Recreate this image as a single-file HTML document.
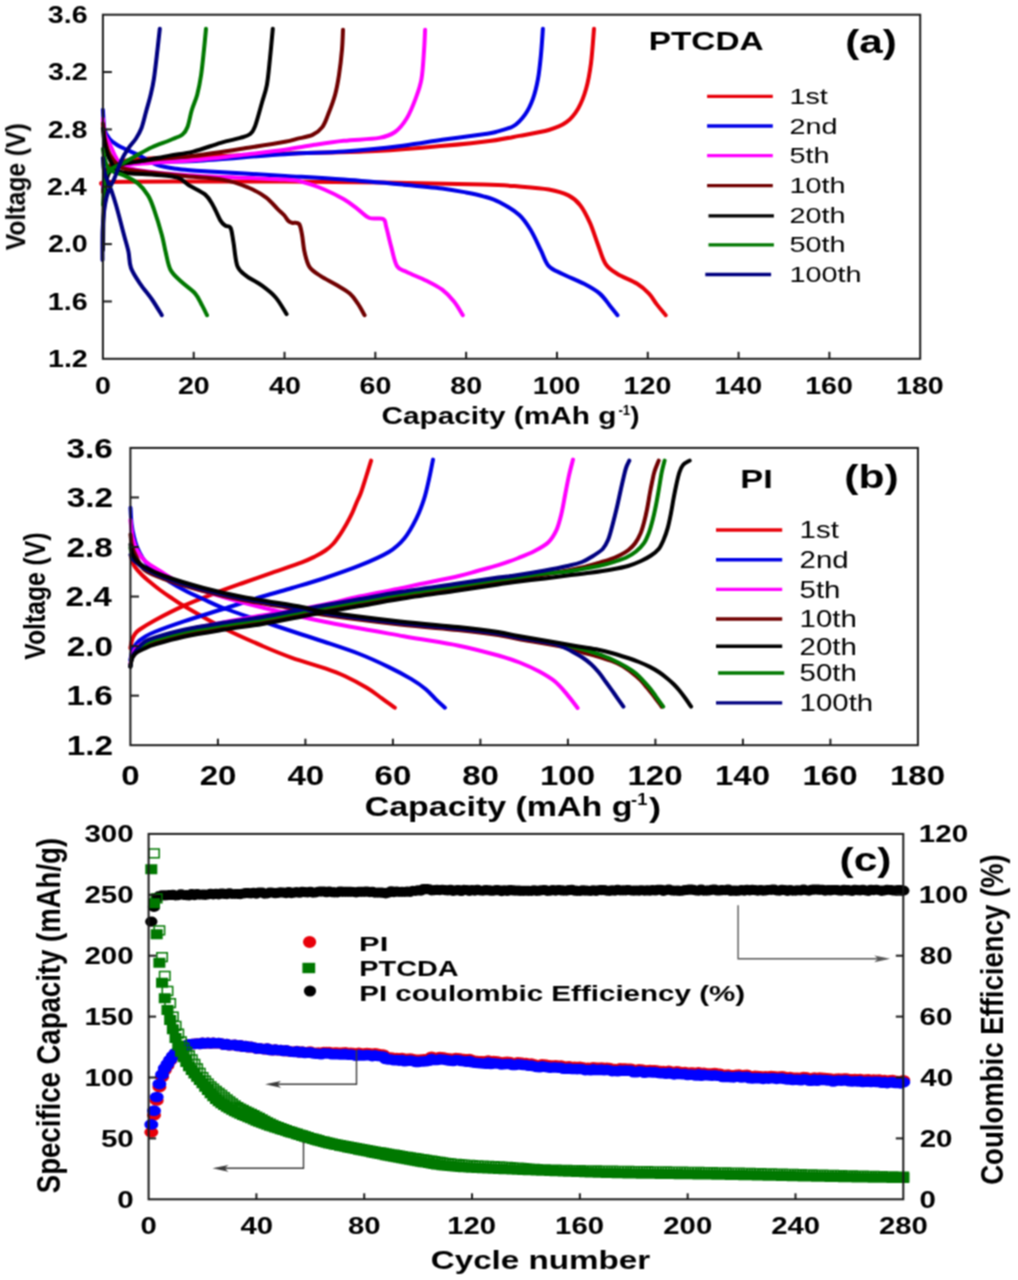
<!DOCTYPE html>
<html><head><meta charset="utf-8"><title>figure</title>
<style>html,body{margin:0;padding:0;background:#fff;}svg{display:block;}text{font-family:"Liberation Sans",sans-serif;}</style>
</head><body><div id="w">
<svg width="1018" height="1280" viewBox="0 0 1018 1280">
<defs><filter id="bl" x="0" y="0" width="1" height="1" color-interpolation-filters="sRGB"><feConvolveMatrix order="3" kernelMatrix="1 2 1 2 4 2 1 2 1" edgeMode="duplicate" preserveAlpha="true"/></filter></defs>
<rect width="1018" height="1280" fill="#fff"/>
<g filter="url(#bl)"><rect width="1018" height="1280" fill="#fff"/>
<path d="M103,185 C104.17,184.5 94.5,182.58 110,182 C125.5,181.42 166.83,181.57 196,181.5 C225.17,181.43 253.8,181.42 285,181.6 C316.2,181.78 350.13,182.1 383.2,182.6 C416.27,183.1 460.72,183.95 483.4,184.6 C506.08,185.25 508.4,185.68 519.3,186.5 C530.2,187.32 540.62,188.02 548.8,189.5 C556.98,190.98 563.17,192.78 568.4,195.4 C573.63,198.02 576.6,200.62 580.2,205.2 C583.8,209.78 587.05,216.35 590,222.9 C592.95,229.45 595.28,237.63 597.9,244.5 C600.52,251.37 602.43,259.18 605.7,264.1 C608.97,269.02 612.25,270.72 617.5,274 C622.75,277.28 631.95,280.53 637.2,283.8 C642.45,287.07 645.73,290.17 649,293.6 C652.27,297.03 654.02,300.8 656.8,304.4 C659.58,308 664.22,313.4 665.7,315.2" fill="none" stroke="#e8000a" stroke-width="4.0" stroke-linecap="round" stroke-linejoin="round"/>
<path d="M103,186 C103.5,183.67 104.5,175.67 106,172 C107.5,168.33 108,166 112,164 C116,162 122,161 130,160 C138,159 145,158.67 160,158 C175,157.33 199.17,156.73 220,156 C240.83,155.27 261.07,154.33 285,153.6 C308.93,152.87 340.68,152.58 363.6,151.6 C386.52,150.62 402.53,149.33 422.5,147.7 C442.47,146.07 467.27,143.77 483.4,141.8 C499.53,139.83 508.4,137.87 519.3,135.9 C530.2,133.93 540.95,132.28 548.8,130 C556.65,127.72 561.5,125.8 566.4,122.2 C571.3,118.6 574.92,113.97 578.2,108.4 C581.48,102.83 583.97,96.33 586.1,88.8 C588.23,81.27 589.68,73.2 591,63.2 C592.32,53.2 593.5,34.53 594,28.8" fill="none" stroke="#e8000a" stroke-width="4.0" stroke-linecap="round" stroke-linejoin="round"/>
<path d="M102.9,109.8 C103.17,113.08 103.35,124.58 104.5,129.5 C105.65,134.42 107.62,136.68 109.8,139.3 C111.98,141.92 114.65,143.4 117.6,145.2 C120.55,147 123.4,148.13 127.5,150.1 C131.6,152.07 137.3,154.55 142.2,157 C147.1,159.45 151.17,162.83 156.9,164.8 C162.63,166.77 170.05,167.82 176.6,168.8 C183.15,169.78 178.13,169.52 196.2,170.7 C214.27,171.88 260.38,174.42 285,175.9 C309.62,177.38 324.25,178.15 343.9,179.6 C363.55,181.05 386.52,183.12 402.9,184.6 C419.28,186.08 431.73,187.2 442.2,188.5 C452.67,189.8 458.83,191.1 465.7,192.4 C472.57,193.7 477.75,194.67 483.4,196.3 C489.05,197.93 493.62,199.08 499.6,202.2 C505.58,205.32 514.05,210.25 519.3,215 C524.55,219.75 527.5,224.8 531.1,230.7 C534.7,236.6 537.95,244.5 540.9,250.4 C543.85,256.3 545.2,262.17 548.8,266.1 C552.4,270.03 556.62,271.05 562.5,274 C568.38,276.95 577.88,280.53 584.1,283.8 C590.32,287.07 595.53,290 599.8,293.6 C604.07,297.2 606.75,301.8 609.7,305.4 C612.65,309 616.2,313.57 617.5,315.2" fill="none" stroke="#0000e6" stroke-width="4.0" stroke-linecap="round" stroke-linejoin="round"/>
<path d="M103,190 C103.5,187.33 104.5,177.83 106,174 C107.5,170.17 104.67,169 112,167 C119.33,165 136,163.02 150,162 C164,160.98 173.5,162.2 196,160.9 C218.5,159.6 260.35,155.75 285,154.2 C309.65,152.65 324.25,153.02 343.9,151.6 C363.55,150.18 386.52,147.67 402.9,145.7 C419.28,143.73 428.78,141.7 442.2,139.8 C455.62,137.9 474.48,135.6 483.4,134.3 C492.32,133 490.7,133.37 495.7,132 C500.7,130.63 508.48,129.05 513.4,126.1 C518.32,123.15 521.93,118.88 525.2,114.3 C528.47,109.72 530.87,104.5 533,98.6 C535.13,92.7 536.68,86.1 538,78.9 C539.32,71.7 540.08,63.75 540.9,55.4 C541.72,47.05 542.57,33.23 542.9,28.8" fill="none" stroke="#0000e6" stroke-width="4.0" stroke-linecap="round" stroke-linejoin="round"/>
<path d="M102.9,118.7 C103.23,121.32 103.75,130.15 104.9,134.4 C106.05,138.65 108,140.43 109.8,144.2 C111.6,147.97 113.57,153.4 115.7,157 C117.83,160.6 119,163.63 122.6,165.8 C126.2,167.97 131.07,168.8 137.3,170 C143.53,171.2 149.55,172 160,173 C170.45,174 179.17,174.9 200,176 C220.83,177.1 267.57,178.5 285,179.6 C302.43,180.7 298.05,180.95 304.6,182.6 C311.15,184.25 317.75,186.72 324.3,189.5 C330.85,192.28 338.33,196.03 343.9,199.3 C349.47,202.57 353.43,205.98 357.7,209.1 C361.97,212.22 365.25,216.37 369.5,218 C373.75,219.63 380.42,217.43 383.2,218.9 C385.98,220.37 384.88,222.22 386.2,226.8 C387.52,231.38 389.3,239.85 391.1,246.4 C392.9,252.95 394.38,261.83 397,266.1 C399.62,270.37 401.88,269.55 406.8,272 C411.72,274.45 420.6,277.85 426.5,280.8 C432.4,283.75 437.62,286.25 442.2,289.7 C446.78,293.15 450.57,297.25 454,301.5 C457.43,305.75 461.33,312.92 462.8,315.2" fill="none" stroke="#ff00ff" stroke-width="4.0" stroke-linecap="round" stroke-linejoin="round"/>
<path d="M103,186 C103.5,183.67 104,175.33 106,172 C108,168.67 107.67,167.5 115,166 C122.33,164.5 136.5,164 150,163 C163.5,162 179.33,161.5 196,160 C212.67,158.5 235.17,155.72 250,154 C264.83,152.28 274.25,151.23 285,149.7 C295.75,148.17 304.68,146.28 314.5,144.8 C324.32,143.32 333.1,141.95 343.9,140.8 C354.7,139.65 370.78,139.37 379.3,137.9 C387.82,136.43 390.42,135.28 395,132 C399.58,128.72 403.37,123.77 406.8,118.2 C410.23,112.63 413.15,105.15 415.6,98.6 C418.05,92.05 420.08,87.08 421.5,78.9 C422.92,70.72 423.5,57.68 424.1,49.5 C424.7,41.32 424.93,33.08 425.1,29.8" fill="none" stroke="#ff00ff" stroke-width="4.0" stroke-linecap="round" stroke-linejoin="round"/>
<path d="M102.9,123.6 C103.25,126.33 103.82,134.77 105,140 C106.18,145.23 107.83,150.83 110,155 C112.17,159.17 114.67,162.5 118,165 C121.33,167.5 119.43,168.22 130,170 C140.57,171.78 165.95,174.1 181.4,175.7 C196.85,177.3 211.57,177.63 222.7,179.6 C233.83,181.57 241,184.55 248.2,187.5 C255.4,190.45 260.98,193.7 265.9,197.3 C270.82,200.9 274.68,206.15 277.7,209.1 C280.72,212.05 282.2,213.02 284,215 C285.8,216.98 287.17,219.7 288.5,221 C289.83,222.3 290.25,222.32 292,222.8 C293.75,223.28 297.33,221.92 299,223.9 C300.67,225.88 301.07,229.97 302,234.7 C302.93,239.43 303.33,246.9 304.6,252.3 C305.87,257.7 306.97,263.17 309.6,267.1 C312.23,271.03 315.98,272.95 320.4,275.9 C324.82,278.85 331.2,281.85 336.1,284.8 C341,287.75 346.2,290.5 349.8,293.6 C353.4,296.7 355.23,299.8 357.7,303.4 C360.17,307 363.45,313.23 364.6,315.2" fill="none" stroke="#700000" stroke-width="4.0" stroke-linecap="round" stroke-linejoin="round"/>
<path d="M103,192 C103.5,189 104.5,178.33 106,174 C107.5,169.67 104.67,168.33 112,166 C119.33,163.67 136,161.75 150,160 C164,158.25 179.33,157.58 196,155.5 C212.67,153.42 235.17,149.78 250,147.5 C264.83,145.22 277.2,143.23 285,141.8 C292.8,140.37 292.22,140.05 296.8,138.9 C301.38,137.75 308.25,136.87 312.5,134.9 C316.75,132.93 319.68,130.53 322.3,127.1 C324.92,123.67 326.07,119.7 328.2,114.3 C330.33,108.9 333.3,101.25 335.1,94.7 C336.9,88.15 337.85,82.53 339,75 C340.15,67.47 341.33,57.03 342,49.5 C342.67,41.97 342.83,33.08 343,29.8" fill="none" stroke="#700000" stroke-width="4.0" stroke-linecap="round" stroke-linejoin="round"/>
<path d="M102.9,128.5 C103.25,131.25 103.82,139.75 105,145 C106.18,150.25 107.42,155.53 110,160 C112.58,164.47 113.18,169.35 120.5,171.8 C127.82,174.25 144.4,173.72 153.9,174.7 C163.4,175.68 171.6,175.9 177.5,177.7 C183.4,179.5 184.72,182.72 189.3,185.5 C193.88,188.28 201.07,191.12 205,194.4 C208.93,197.68 210.28,200.78 212.9,205.2 C215.52,209.62 218.58,217.47 220.7,220.9 C222.82,224.33 223.95,224.65 225.6,225.8 C227.25,226.95 229.28,225.02 230.6,227.8 C231.92,230.58 232.37,236.12 233.5,242.5 C234.63,248.88 235.27,260.53 237.4,266.1 C239.53,271.67 242.2,272.63 246.3,275.9 C250.4,279.17 257.1,282.1 262,285.7 C266.9,289.3 271.6,292.75 275.7,297.5 C279.8,302.25 284.78,311.42 286.6,314.2" fill="none" stroke="#000000" stroke-width="4.0" stroke-linecap="round" stroke-linejoin="round"/>
<path d="M103,250 C103.17,241.67 103.17,212.5 104,200 C104.83,187.5 105.67,180.83 108,175 C110.33,169.17 111.98,167.42 118,165 C124.02,162.58 135.48,162.07 144.1,160.5 C152.72,158.93 161.52,157.08 169.7,155.6 C177.88,154.12 184.7,153.73 193.2,151.6 C201.7,149.47 212.83,145.08 220.7,142.8 C228.57,140.52 235.48,139.37 240.4,137.9 C245.32,136.43 247.75,135.97 250.2,134 C252.65,132.03 253.13,131.35 255.1,126.1 C257.07,120.85 260.03,109.38 262,102.5 C263.97,95.62 265.58,92 266.9,84.8 C268.22,77.6 268.92,68.63 269.9,59.3 C270.88,49.97 272.32,33.88 272.8,28.8" fill="none" stroke="#000000" stroke-width="4.0" stroke-linecap="round" stroke-linejoin="round"/>
<path d="M102.9,149 C103.25,150.83 103.82,156.5 105,160 C106.18,163.5 106.75,167.38 110,170 C113.25,172.62 119.8,173.43 124.5,175.7 C129.2,177.97 134.28,180.32 138.2,183.6 C142.12,186.88 145.38,191.15 148,195.4 C150.62,199.65 151.6,202.55 153.9,209.1 C156.2,215.65 159.83,227.5 161.8,234.7 C163.77,241.9 164.23,246.42 165.7,252.3 C167.17,258.18 167.98,265.08 170.6,270 C173.22,274.92 177.3,277.87 181.4,281.8 C185.5,285.73 191.75,289.67 195.2,293.6 C198.65,297.53 200.13,301.8 202.1,305.4 C204.07,309 206.18,313.57 207,315.2" fill="none" stroke="#007800" stroke-width="4.0" stroke-linecap="round" stroke-linejoin="round"/>
<path d="M103,205 C103.33,200.83 103.83,185.83 105,180 C106.17,174.17 106.92,172.85 110,170 C113.08,167.15 118.95,165.4 123.5,162.9 C128.05,160.4 132.55,157.62 137.3,155 C142.05,152.38 146.47,149.7 152,147.2 C157.53,144.7 165.42,142.12 170.5,140 C175.58,137.88 179.67,136.67 182.5,134.5 C185.33,132.33 185.95,131.08 187.5,127 C189.05,122.92 190.18,115.38 191.8,110 C193.42,104.62 195.65,100.53 197.2,94.7 C198.75,88.87 199.97,82.53 201.1,75 C202.23,67.47 203.18,57.2 204,49.5 C204.82,41.8 205.67,32.25 206,28.8" fill="none" stroke="#007800" stroke-width="4.0" stroke-linecap="round" stroke-linejoin="round"/>
<path d="M102.9,158 C103.1,160.08 103.22,166.38 104.1,170.5 C104.98,174.62 106.85,178.98 108.2,182.7 C109.55,186.42 110.85,188.92 112.2,192.8 C113.55,196.68 114.93,201.25 116.3,206 C117.67,210.75 119.05,216.22 120.4,221.3 C121.75,226.38 123.05,231.42 124.4,236.5 C125.75,241.58 127.4,246.55 128.5,251.8 C129.6,257.05 129.05,262.67 131,268 C132.95,273.33 136.7,278.55 140.2,283.8 C143.7,289.05 148.4,294.27 152,299.5 C155.6,304.73 160.17,312.58 161.8,315.2" fill="none" stroke="#000080" stroke-width="4.0" stroke-linecap="round" stroke-linejoin="round"/>
<path d="M102.5,260 C102.52,255.25 102.33,239.65 102.6,231.5 C102.87,223.35 103.43,216.87 104.1,211.1 C104.77,205.33 105.58,200.97 106.6,196.9 C107.62,192.83 108.92,189.75 110.2,186.7 C111.48,183.65 112.43,183 114.3,178.6 C116.17,174.2 119.03,165.38 121.4,160.3 C123.77,155.22 126.07,151.73 128.5,148.1 C130.93,144.47 133.83,141.85 136,138.5 C138.17,135.15 139.82,132.5 141.5,128 C143.18,123.5 144.6,116.92 146.1,111.5 C147.6,106.08 149.2,100.93 150.5,95.5 C151.8,90.07 152.73,86.57 153.9,78.9 C155.07,71.23 156.52,57.85 157.5,49.5 C158.48,41.15 159.42,32.25 159.8,28.8" fill="none" stroke="#000080" stroke-width="4.0" stroke-linecap="round" stroke-linejoin="round"/>
<rect x="102.9" y="14.7" width="817.3" height="344.1" fill="none" stroke="#1a1a1a" stroke-width="2.0"/>
<line x1="102.9" y1="301.45" x2="111.9" y2="301.45" stroke="#1a1a1a" stroke-width="2.0"/>
<line x1="102.9" y1="244.1" x2="111.9" y2="244.1" stroke="#1a1a1a" stroke-width="2.0"/>
<line x1="102.9" y1="186.75" x2="111.9" y2="186.75" stroke="#1a1a1a" stroke-width="2.0"/>
<line x1="102.9" y1="129.4" x2="111.9" y2="129.4" stroke="#1a1a1a" stroke-width="2.0"/>
<line x1="102.9" y1="72.05" x2="111.9" y2="72.05" stroke="#1a1a1a" stroke-width="2.0"/>
<line x1="193.71" y1="358.8" x2="193.71" y2="351.8" stroke="#1a1a1a" stroke-width="2.0"/>
<line x1="284.52" y1="358.8" x2="284.52" y2="351.8" stroke="#1a1a1a" stroke-width="2.0"/>
<line x1="375.33" y1="358.8" x2="375.33" y2="351.8" stroke="#1a1a1a" stroke-width="2.0"/>
<line x1="466.14" y1="358.8" x2="466.14" y2="351.8" stroke="#1a1a1a" stroke-width="2.0"/>
<line x1="556.96" y1="358.8" x2="556.96" y2="351.8" stroke="#1a1a1a" stroke-width="2.0"/>
<line x1="647.77" y1="358.8" x2="647.77" y2="351.8" stroke="#1a1a1a" stroke-width="2.0"/>
<line x1="738.58" y1="358.8" x2="738.58" y2="351.8" stroke="#1a1a1a" stroke-width="2.0"/>
<line x1="829.39" y1="358.8" x2="829.39" y2="351.8" stroke="#1a1a1a" stroke-width="2.0"/>
<text transform="translate(47.99,367) scale(1.2170,1)" font-size="23.5" font-weight="bold" fill="#000">1.2</text>
<text transform="translate(47.85,309.65) scale(1.2170,1)" font-size="23.5" font-weight="bold" fill="#000">1.6</text>
<text transform="translate(47.99,252.3) scale(1.2170,1)" font-size="23.5" font-weight="bold" fill="#000">2.0</text>
<text transform="translate(46.99,194.95) scale(1.2170,1)" font-size="23.5" font-weight="bold" fill="#000">2.4</text>
<text transform="translate(47.7,137.6) scale(1.2170,1)" font-size="23.5" font-weight="bold" fill="#000">2.8</text>
<text transform="translate(47.99,80.25) scale(1.2170,1)" font-size="23.5" font-weight="bold" fill="#000">3.2</text>
<text transform="translate(47.85,22.9) scale(1.2170,1)" font-size="23.5" font-weight="bold" fill="#000">3.6</text>
<text transform="translate(94.96,393.69) scale(1.2180,1)" font-size="23.5" font-weight="bold" fill="#000">0</text>
<text transform="translate(177.9,393.69) scale(1.2180,1)" font-size="23.5" font-weight="bold" fill="#000">20</text>
<text transform="translate(268.99,393.69) scale(1.2180,1)" font-size="23.5" font-weight="bold" fill="#000">40</text>
<text transform="translate(359.48,393.69) scale(1.2180,1)" font-size="23.5" font-weight="bold" fill="#000">60</text>
<text transform="translate(450.37,393.69) scale(1.2180,1)" font-size="23.5" font-weight="bold" fill="#000">80</text>
<text transform="translate(532.77,393.69) scale(1.2180,1)" font-size="23.5" font-weight="bold" fill="#000">100</text>
<text transform="translate(623.58,393.69) scale(1.2180,1)" font-size="23.5" font-weight="bold" fill="#000">120</text>
<text transform="translate(714.39,393.69) scale(1.2180,1)" font-size="23.5" font-weight="bold" fill="#000">140</text>
<text transform="translate(805.2,393.69) scale(1.2180,1)" font-size="23.5" font-weight="bold" fill="#000">160</text>
<text transform="translate(896.01,393.69) scale(1.2180,1)" font-size="23.5" font-weight="bold" fill="#000">180</text>
<text transform="translate(381.41,423.9) scale(1.2752,1)" font-size="23.37" font-weight="bold" fill="#000">Capacity (mAh g</text>
<text transform="translate(618.47,415.3) scale(0.8919,1)" font-size="14.77" font-weight="bold" fill="#000">-1</text>
<text transform="translate(630.13,423.97) scale(1.1494,1)" font-size="24.24" font-weight="bold" fill="#000">)</text>
<text transform="translate(25.09,250.18) rotate(-90) scale(0.8723,1)" font-size="28.27" font-weight="bold">Voltage (V)</text>
<text transform="translate(648.75,50.3) scale(1.3366,1)" font-size="24.95" font-weight="bold" fill="#000">PTCDA</text>
<text transform="translate(845.19,53.21) scale(1.2540,1)" font-size="33.67" font-weight="bold" fill="#000">(a)</text>
<line x1="707.1" y1="96.3" x2="772.8" y2="96.3" stroke="#e8000a" stroke-width="3.3"/>
<text transform="translate(789.4,103.97) scale(1.3100,1)" font-size="22" font-weight="normal" fill="#000">1st</text>
<line x1="707.1" y1="126" x2="772.8" y2="126" stroke="#0000e6" stroke-width="3.3"/>
<text transform="translate(789.4,133.67) scale(1.3100,1)" font-size="22" font-weight="normal" fill="#000">2nd</text>
<line x1="707.1" y1="155.7" x2="772.8" y2="155.7" stroke="#ff00ff" stroke-width="3.3"/>
<text transform="translate(789.4,163.37) scale(1.3100,1)" font-size="22" font-weight="normal" fill="#000">5th</text>
<line x1="707.1" y1="185.6" x2="772.8" y2="185.6" stroke="#700000" stroke-width="3.3"/>
<text transform="translate(789.4,193.27) scale(1.3100,1)" font-size="22" font-weight="normal" fill="#000">10th</text>
<line x1="708.5" y1="215.8" x2="773.9" y2="215.8" stroke="#000000" stroke-width="3.3"/>
<text transform="translate(789.4,223.47) scale(1.3100,1)" font-size="22" font-weight="normal" fill="#000">20th</text>
<line x1="708.5" y1="244.8" x2="773.9" y2="244.8" stroke="#007800" stroke-width="3.3"/>
<text transform="translate(789.4,252.47) scale(1.3100,1)" font-size="22" font-weight="normal" fill="#000">50th</text>
<line x1="705.3" y1="274.5" x2="771.1" y2="274.5" stroke="#000080" stroke-width="3.3"/>
<text transform="translate(789.4,282.17) scale(1.3100,1)" font-size="22" font-weight="normal" fill="#000">100th</text>
<path d="M130.8,556 C131.08,557 131.8,560.17 132.5,562 C133.2,563.83 133.42,564.83 135,567 C136.58,569.17 139.5,572.5 142,575 C144.5,577.5 147,579.5 150,582 C153,584.5 156.67,587.5 160,590 C163.33,592.5 166.02,594.33 170,597 C173.98,599.67 175.03,600.83 183.9,606 C192.77,611.17 210.1,621.33 223.2,628 C236.3,634.67 251.03,641.03 262.5,646 C273.97,650.97 281.42,654.03 292,657.8 C302.58,661.57 317.22,665.57 326,668.6 C334.78,671.63 337.9,672.8 344.7,676 C351.5,679.2 360.65,684.12 366.8,687.8 C372.95,691.48 376.93,694.78 381.6,698.1 C386.27,701.42 392.6,706.1 394.8,707.7" fill="none" stroke="#e8000a" stroke-width="4.0" stroke-linecap="round" stroke-linejoin="round"/>
<path d="M130.4,648 C130.67,646.67 131.23,642.33 132,640 C132.77,637.67 133.72,635.75 135,634 C136.28,632.25 136.45,631.77 139.7,629.5 C142.95,627.23 147.12,624.38 154.5,620.4 C161.88,616.42 174.18,610.03 184,605.6 C193.82,601.17 203.58,597.57 213.4,593.8 C223.22,590.03 233.07,586.53 242.9,583 C252.73,579.47 262.58,576.05 272.4,572.6 C282.22,569.15 294.7,564.98 301.8,562.3 C308.9,559.62 311.07,558.47 315,556.5 C318.93,554.53 322.4,552.58 325.4,550.5 C328.4,548.42 330.53,546.7 333,544 C335.47,541.3 337.95,537.63 340.2,534.3 C342.45,530.97 344.55,527.43 346.5,524 C348.45,520.57 350.18,517.37 351.9,513.7 C353.62,510.03 355.32,505.45 356.8,502 C358.28,498.55 359.27,497.17 360.8,493 C362.33,488.83 364.28,482.4 366,477 C367.72,471.6 370.25,463.33 371.1,460.6" fill="none" stroke="#e8000a" stroke-width="4.0" stroke-linecap="round" stroke-linejoin="round"/>
<path d="M130.5,507.8 C130.67,510.4 130.92,518.53 131.5,523.4 C132.08,528.27 133.08,533.07 134,537 C134.92,540.93 135.55,543.5 137,547 C138.45,550.5 140.53,554.67 142.7,558 C144.87,561.33 147.12,564.17 150,567 C152.88,569.83 156.8,572.58 160,575 C163.2,577.42 165.03,578.92 169.2,581.5 C173.37,584.08 179.27,587.53 185,590.5 C190.73,593.47 197.23,596.38 203.6,599.3 C209.97,602.22 213.38,604.32 223.2,608 C233.02,611.68 249.4,616.98 262.5,621.4 C275.6,625.82 291.65,631.15 301.8,634.5 C311.95,637.85 313.78,638.25 323.4,641.5 C333.02,644.75 348.58,649.73 359.5,654 C370.42,658.27 380.32,662.95 388.9,667.1 C397.48,671.25 404.85,675.22 411,678.9 C417.15,682.58 421.62,685.75 425.8,689.2 C429.98,692.65 432.92,696.52 436.1,699.6 C439.28,702.68 443.43,706.35 444.9,707.7" fill="none" stroke="#0000e6" stroke-width="4.0" stroke-linecap="round" stroke-linejoin="round"/>
<path d="M130.4,660 C130.75,658.33 131.43,652.83 132.5,650 C133.57,647.17 134.78,645.17 136.8,643 C138.82,640.83 141.65,638.83 144.6,637 C147.55,635.17 147.95,634.6 154.5,632 C161.05,629.4 172.45,625.23 183.9,621.4 C195.35,617.57 210.1,613.15 223.2,609 C236.3,604.85 251.03,600 262.5,596.5 C273.97,593 281.85,591 292,588 C302.15,585 312.18,582.22 323.4,578.5 C334.62,574.78 348.4,570.12 359.3,565.7 C370.2,561.28 381.27,556.58 388.8,552 C396.33,547.42 399.92,543.77 404.5,538.2 C409.08,532.63 413.03,525.15 416.3,518.6 C419.57,512.05 421.98,505.45 424.1,498.9 C426.22,492.35 427.52,485.85 429,479.3 C430.48,472.75 432.33,462.88 433,459.6" fill="none" stroke="#0000e6" stroke-width="4.0" stroke-linecap="round" stroke-linejoin="round"/>
<path d="M130.5,520 C130.67,521.67 131.08,526.83 131.5,530 C131.92,533.17 132.08,535.67 133,539 C133.92,542.33 135,546.33 137,550 C139,553.67 141.17,557.5 145,561 C148.83,564.5 153.52,567.08 160,571 C166.48,574.92 173.37,580.17 183.9,584.5 C194.43,588.83 210.1,593.17 223.2,597 C236.3,600.83 245.8,603.42 262.5,607.5 C279.2,611.58 299.87,616.72 323.4,621.5 C346.93,626.28 381.12,632.17 403.7,636.2 C426.28,640.23 442.85,642.4 458.9,645.7 C474.95,649 489.88,653.2 500,656 C510.12,658.8 513.05,659.92 519.6,662.5 C526.15,665.08 533.4,668.33 539.3,671.5 C545.2,674.67 550.42,677.73 555,681.5 C559.58,685.27 563.03,689.7 566.8,694.1 C570.57,698.5 575.8,705.6 577.6,707.9" fill="none" stroke="#ff00ff" stroke-width="4.0" stroke-linecap="round" stroke-linejoin="round"/>
<path d="M130.4,664 C130.75,662.33 131.43,656.75 132.5,654 C133.57,651.25 134.72,649.42 136.8,647.5 C138.88,645.58 142.05,644 145,642.5 C147.95,641 148,640.5 154.5,638.5 C161,636.5 172.58,633.17 184,630.5 C195.42,627.83 210,625 223,622.5 C236,620 245.83,618.33 262,615.5 C278.17,612.67 303.78,608.67 320,605.5 C336.22,602.33 345.97,599.33 359.3,596.5 C372.63,593.67 390.18,590.5 400,588.5 C409.82,586.5 408.38,586.58 418.2,584.5 C428.02,582.42 449.07,578.25 458.9,576 C468.73,573.75 470.65,572.8 477.2,571 C483.75,569.2 491.33,567.37 498.2,565.2 C505.07,563.03 512.33,560.37 518.4,558 C524.47,555.63 529.6,553.63 534.6,551 C539.6,548.37 544.78,545.63 548.4,542.2 C552.02,538.77 554.17,534.98 556.3,530.4 C558.43,525.82 559.73,520.6 561.2,514.7 C562.67,508.8 563.8,501.55 565.1,495 C566.4,488.45 567.68,481.3 569,475.4 C570.32,469.5 572.33,462.23 573,459.6" fill="none" stroke="#ff00ff" stroke-width="4.0" stroke-linecap="round" stroke-linejoin="round"/>
<path d="M130.5,534.4 C130.75,536.33 131.08,542.4 132,546 C132.92,549.6 133.9,552 136,556 C138.1,560 139.88,566.17 144.6,570 C149.32,573.83 154.47,575.5 164.3,579 C174.13,582.5 190.5,587.5 203.6,591 C216.7,594.5 226.53,596.83 242.9,600 C259.27,603.17 288.62,607.58 301.8,610 C314.98,612.42 305.63,612.08 322,614.5 C338.37,616.92 377.33,621.92 400,624.5 C422.67,627.08 441.63,628.25 458,630 C474.37,631.75 488.13,633.5 498.2,635 C508.27,636.5 508.28,637.17 518.4,639 C528.52,640.83 548.28,643.8 558.9,646 C569.52,648.2 575.58,650.45 582.1,652.2 C588.62,653.95 593.08,655.03 598,656.5 C602.92,657.97 607.52,659.42 611.6,661 C615.68,662.58 619.07,664.03 622.5,666 C625.93,667.97 629.2,670.47 632.2,672.8 C635.2,675.13 638.05,677.53 640.5,680 C642.95,682.47 644.57,684.77 646.9,687.6 C649.23,690.43 652.03,693.82 654.5,697 C656.97,700.18 660.5,705.08 661.7,706.7" fill="none" stroke="#700000" stroke-width="4.0" stroke-linecap="round" stroke-linejoin="round"/>
<path d="M130.4,666.6 C130.67,665.19 130.93,660.64 132,658.13 C133.07,655.61 134.63,653.51 136.8,651.51 C138.97,649.52 142.05,647.7 145,646.17 C147.95,644.63 148.02,644.26 154.5,642.3 C160.98,640.34 172.45,636.87 183.9,634.4 C195.35,631.93 210.1,629.62 223.2,627.5 C236.3,625.38 249.4,623.92 262.5,621.7 C275.6,619.48 291.65,616.12 301.8,614.2 C311.95,612.28 313.7,611.95 323.4,610.2 C333.1,608.45 347.23,605.95 360,603.7 C372.77,601.45 383.67,599.28 400,596.7 C416.33,594.12 441.63,590.62 458,588.2 C474.37,585.78 488.7,583.65 498.2,582.2 C507.7,580.75 507.2,580.78 515,579.5 C522.8,578.22 536.27,576 545,574.5 C553.73,573 561.23,571.67 567.4,570.5 C573.57,569.33 577.1,568.67 582,567.5 C586.9,566.33 592.13,564.83 596.8,563.5 C601.47,562.17 606.07,560.92 610,559.5 C613.93,558.08 617.32,556.58 620.4,555 C623.48,553.42 626.05,551.97 628.5,550 C630.95,548.03 633.1,545.95 635.1,543.2 C637.1,540.45 639.02,536.95 640.5,533.5 C641.98,530.05 642.87,526.75 644,522.5 C645.13,518.25 646.32,512.92 647.3,508 C648.28,503.08 649.07,497.5 649.9,493 C650.73,488.5 651.53,484.58 652.3,481 C653.07,477.42 653.43,474.9 654.5,471.5 C655.57,468.1 658,462.42 658.7,460.6" fill="none" stroke="#700000" stroke-width="4.0" stroke-linecap="round" stroke-linejoin="round"/>
<path d="M130.5,548 C130.75,549 131.08,552 132,554 C132.92,556 133.9,557.67 136,560 C138.1,562.33 139.88,565.17 144.6,568 C149.32,570.83 154.47,573.5 164.3,577 C174.13,580.5 190.5,585.5 203.6,589 C216.7,592.5 226.53,594.83 242.9,598 C259.27,601.17 288.62,605.58 301.8,608 C314.98,610.42 305.63,610.08 322,612.5 C338.37,614.92 377.33,619.92 400,622.5 C422.67,625.08 441.63,626.25 458,628 C474.37,629.75 488.13,631.5 498.2,633 C508.27,634.5 508.28,635.17 518.4,637 C528.52,638.83 548.63,642.08 558.9,644 C569.17,645.92 573.68,646.88 580,648.5 C586.32,650.12 591.47,651.87 596.8,653.7 C602.13,655.53 607.08,657.3 612,659.5 C616.92,661.7 622.3,664.57 626.3,666.9 C630.3,669.23 633.05,671.03 636,673.5 C638.95,675.97 641.58,679.12 644,681.7 C646.42,684.28 648.53,686.55 650.5,689 C652.47,691.45 653.68,693.45 655.8,696.4 C657.92,699.35 661.97,704.98 663.2,706.7" fill="none" stroke="#007800" stroke-width="4.0" stroke-linecap="round" stroke-linejoin="round"/>
<path d="M130.4,666.6 C130.67,665.15 130.93,660.56 132,657.87 C133.07,655.19 134.63,652.83 136.8,650.49 C138.97,648.15 142.05,645.6 145,643.83 C147.95,642.07 148.02,641.87 154.5,639.9 C160.98,637.93 172.45,634.47 183.9,632 C195.35,629.53 210.1,627.22 223.2,625.1 C236.3,622.98 249.4,621.52 262.5,619.3 C275.6,617.08 291.65,613.72 301.8,611.8 C311.95,609.88 313.7,609.55 323.4,607.8 C333.1,606.05 347.23,603.55 360,601.3 C372.77,599.05 383.67,596.88 400,594.3 C416.33,591.72 441.63,588.22 458,585.8 C474.37,583.38 488.7,581.18 498.2,579.8 C507.7,578.42 507.2,578.55 515,577.5 C522.8,576.45 536.27,574.5 545,573.5 C553.73,572.5 560.73,572.33 567.4,571.5 C574.07,570.67 579.12,569.58 585,568.5 C590.88,567.42 597.7,566.17 602.7,565 C607.7,563.83 611.07,562.75 615,561.5 C618.93,560.25 622.8,559.17 626.3,557.5 C629.8,555.83 633.05,553.88 636,551.5 C638.95,549.12 641.83,546.37 644,543.2 C646.17,540.03 647.53,536.43 649,532.5 C650.47,528.57 651.63,524.18 652.8,519.6 C653.97,515.02 655.02,509.92 656,505 C656.98,500.08 657.75,495.53 658.7,490.1 C659.65,484.67 660.72,477.32 661.7,472.4 C662.68,467.48 664.12,462.57 664.6,460.6" fill="none" stroke="#007800" stroke-width="4.0" stroke-linecap="round" stroke-linejoin="round"/>
<path d="M130.5,554.7 C130.83,555.42 131.42,557.62 132.5,559 C133.58,560.38 134.98,561.42 137,563 C139.02,564.58 140.05,566.08 144.6,568.5 C149.15,570.92 154.47,574 164.3,577.5 C174.13,581 190.5,586 203.6,589.5 C216.7,593 226.53,595.33 242.9,598.5 C259.27,601.67 288.62,606.08 301.8,608.5 C314.98,610.92 305.63,610.58 322,613 C338.37,615.42 377.33,620.42 400,623 C422.67,625.58 441.63,626.75 458,628.5 C474.37,630.25 488.13,632 498.2,633.5 C508.27,635 509.33,635.85 518.4,637.5 C527.47,639.15 545.17,641.82 552.6,643.4 C560.03,644.98 559.55,645.53 563,647 C566.45,648.47 570.05,650.45 573.3,652.2 C576.55,653.95 579.57,655.53 582.5,657.5 C585.43,659.47 588.23,661.58 590.9,664 C593.57,666.42 596.03,669.05 598.5,672 C600.97,674.95 603.03,678.03 605.7,681.7 C608.37,685.37 611.55,689.83 614.5,694 C617.45,698.17 621.92,704.58 623.4,706.7" fill="none" stroke="#000080" stroke-width="4.0" stroke-linecap="round" stroke-linejoin="round"/>
<path d="M130.4,666.6 C130.67,665.1 130.93,660.48 132,657.63 C133.07,654.78 134.63,652.18 136.8,649.51 C138.97,646.83 142.05,643.58 145,641.59 C147.95,639.61 148.02,639.58 154.5,637.6 C160.98,635.62 172.45,632.17 183.9,629.7 C195.35,627.23 210.1,624.92 223.2,622.8 C236.3,620.68 249.4,619.22 262.5,617 C275.6,614.78 291.65,611.42 301.8,609.5 C311.95,607.58 313.7,607.25 323.4,605.5 C333.1,603.75 347.23,601.25 360,599 C372.77,596.75 383.67,594.58 400,592 C416.33,589.42 441.63,585.92 458,583.5 C474.37,581.08 488.7,578.83 498.2,577.5 C507.7,576.17 507.2,576.67 515,575.5 C522.8,574.33 536.27,572.08 545,570.5 C553.73,568.92 561.23,567.42 567.4,566 C573.57,564.58 577.73,563.67 582,562 C586.27,560.33 589.55,558.17 593,556 C596.45,553.83 600.2,551.67 602.7,549 C605.2,546.33 606.52,543.43 608,540 C609.48,536.57 610.47,532.4 611.6,528.4 C612.73,524.4 613.82,519.93 614.8,516 C615.78,512.07 616.55,508.97 617.5,504.8 C618.45,500.63 619.52,495.42 620.5,491 C621.48,486.58 622.48,482.13 623.4,478.3 C624.32,474.47 625.02,470.95 626,468 C626.98,465.05 628.75,461.83 629.3,460.6" fill="none" stroke="#000080" stroke-width="4.0" stroke-linecap="round" stroke-linejoin="round"/>
<path d="M130.5,544.5 C130.67,545.42 131.08,548.25 131.5,550 C131.92,551.75 132.08,553.17 133,555 C133.92,556.83 135.07,559 137,561 C138.93,563 140.05,564.5 144.6,567 C149.15,569.5 154.47,572.5 164.3,576 C174.13,579.5 190.5,584.5 203.6,588 C216.7,591.5 226.53,593.83 242.9,597 C259.27,600.17 288.62,604.58 301.8,607 C314.98,609.42 305.63,609.08 322,611.5 C338.37,613.92 377.33,618.92 400,621.5 C422.67,624.08 441.63,625.25 458,627 C474.37,628.75 488.13,630.5 498.2,632 C508.27,633.5 508.28,634.17 518.4,636 C528.52,637.83 548.88,641.25 558.9,643 C568.92,644.75 571.92,645.37 578.5,646.5 C585.08,647.63 592.73,648.68 598.4,649.8 C604.07,650.92 607.85,651.92 612.5,653.2 C617.15,654.48 621.88,656.03 626.3,657.5 C630.72,658.97 635.07,660.43 639,662 C642.93,663.57 646.48,665.15 649.9,666.9 C653.32,668.65 656.55,670.53 659.5,672.5 C662.45,674.47 665.18,676.7 667.6,678.7 C670.02,680.7 672.03,682.53 674,684.5 C675.97,686.47 677.48,688.17 679.4,690.5 C681.32,692.83 683.55,695.8 685.5,698.5 C687.45,701.2 690.17,705.33 691.1,706.7" fill="none" stroke="#000000" stroke-width="4.0" stroke-linecap="round" stroke-linejoin="round"/>
<path d="M130.4,666.6 C130.67,665.23 130.93,660.72 132,658.37 C133.07,656.02 134.63,654.15 136.8,652.49 C138.97,650.83 142.05,649.72 145,648.41 C147.95,647.09 148.02,646.55 154.5,644.6 C160.98,642.65 172.45,639.17 183.9,636.7 C195.35,634.23 210.1,631.92 223.2,629.8 C236.3,627.68 249.4,626.22 262.5,624 C275.6,621.78 291.65,618.42 301.8,616.5 C311.95,614.58 313.7,614.25 323.4,612.5 C333.1,610.75 347.23,608.25 360,606 C372.77,603.75 383.67,601.58 400,599 C416.33,596.42 441.63,592.92 458,590.5 C474.37,588.08 488.7,585.92 498.2,584.5 C507.7,583.08 507.2,583 515,582 C522.8,581 536.27,579.57 545,578.5 C553.73,577.43 559.9,576.55 567.4,575.6 C574.9,574.65 582.63,573.82 590,572.8 C597.37,571.78 605.27,570.63 611.6,569.5 C617.93,568.37 623.1,567.42 628,566 C632.9,564.58 637.17,562.75 641,561 C644.83,559.25 648.05,557.5 651,555.5 C653.95,553.5 656.62,551.58 658.7,549 C660.78,546.42 662.02,543.43 663.5,540 C664.98,536.57 666.35,532.9 667.6,528.4 C668.85,523.9 670.02,517.92 671,513 C671.98,508.08 672.58,503.73 673.5,498.9 C674.42,494.07 675.52,488.42 676.5,484 C677.48,479.58 678.32,475.57 679.4,472.4 C680.48,469.23 681.28,466.97 683,465 C684.72,463.03 688.58,461.33 689.7,460.6" fill="none" stroke="#000000" stroke-width="4.0" stroke-linecap="round" stroke-linejoin="round"/>
<rect x="130.4" y="447.9" width="787.5" height="297.3" fill="none" stroke="#1a1a1a" stroke-width="2.0"/>
<line x1="130.4" y1="695.65" x2="139" y2="695.65" stroke="#1a1a1a" stroke-width="2.0"/>
<line x1="130.4" y1="646.1" x2="139" y2="646.1" stroke="#1a1a1a" stroke-width="2.0"/>
<line x1="130.4" y1="596.55" x2="139" y2="596.55" stroke="#1a1a1a" stroke-width="2.0"/>
<line x1="130.4" y1="547" x2="139" y2="547" stroke="#1a1a1a" stroke-width="2.0"/>
<line x1="130.4" y1="497.45" x2="139" y2="497.45" stroke="#1a1a1a" stroke-width="2.0"/>
<line x1="217.9" y1="745.2" x2="217.9" y2="738.7" stroke="#1a1a1a" stroke-width="2.0"/>
<line x1="305.4" y1="745.2" x2="305.4" y2="738.7" stroke="#1a1a1a" stroke-width="2.0"/>
<line x1="392.9" y1="745.2" x2="392.9" y2="738.7" stroke="#1a1a1a" stroke-width="2.0"/>
<line x1="480.4" y1="745.2" x2="480.4" y2="738.7" stroke="#1a1a1a" stroke-width="2.0"/>
<line x1="567.9" y1="745.2" x2="567.9" y2="738.7" stroke="#1a1a1a" stroke-width="2.0"/>
<line x1="655.4" y1="745.2" x2="655.4" y2="738.7" stroke="#1a1a1a" stroke-width="2.0"/>
<line x1="742.9" y1="745.2" x2="742.9" y2="738.7" stroke="#1a1a1a" stroke-width="2.0"/>
<line x1="830.4" y1="745.2" x2="830.4" y2="738.7" stroke="#1a1a1a" stroke-width="2.0"/>
<text transform="translate(66.72,754.97) scale(1.1900,1)" font-size="28" font-weight="bold" fill="#000">1.2</text>
<text transform="translate(66.55,705.41) scale(1.1900,1)" font-size="28" font-weight="bold" fill="#000">1.6</text>
<text transform="translate(66.72,655.87) scale(1.1900,1)" font-size="28" font-weight="bold" fill="#000">2.0</text>
<text transform="translate(65.55,606.31) scale(1.1900,1)" font-size="28" font-weight="bold" fill="#000">2.4</text>
<text transform="translate(66.38,556.76) scale(1.1900,1)" font-size="28" font-weight="bold" fill="#000">2.8</text>
<text transform="translate(66.72,507.21) scale(1.1900,1)" font-size="28" font-weight="bold" fill="#000">3.2</text>
<text transform="translate(66.55,457.66) scale(1.1900,1)" font-size="28" font-weight="bold" fill="#000">3.6</text>
<text transform="translate(121.23,784.78) scale(1.1600,1)" font-size="28.5" font-weight="bold" fill="#000">0</text>
<text transform="translate(199.63,784.78) scale(1.1600,1)" font-size="28.5" font-weight="bold" fill="#000">20</text>
<text transform="translate(287.46,784.78) scale(1.1600,1)" font-size="28.5" font-weight="bold" fill="#000">40</text>
<text transform="translate(374.59,784.78) scale(1.1600,1)" font-size="28.5" font-weight="bold" fill="#000">60</text>
<text transform="translate(462.18,784.78) scale(1.1600,1)" font-size="28.5" font-weight="bold" fill="#000">80</text>
<text transform="translate(539.96,784.78) scale(1.1600,1)" font-size="28.5" font-weight="bold" fill="#000">100</text>
<text transform="translate(627.46,784.78) scale(1.1600,1)" font-size="28.5" font-weight="bold" fill="#000">120</text>
<text transform="translate(714.96,784.78) scale(1.1600,1)" font-size="28.5" font-weight="bold" fill="#000">140</text>
<text transform="translate(802.46,784.78) scale(1.1600,1)" font-size="28.5" font-weight="bold" fill="#000">160</text>
<text transform="translate(889.96,784.78) scale(1.1600,1)" font-size="28.5" font-weight="bold" fill="#000">180</text>
<text transform="translate(364.64,816.3) scale(1.2668,1)" font-size="26.81" font-weight="bold" fill="#000">Capacity (mAh g</text>
<text transform="translate(631.07,805) scale(1.0813,1)" font-size="16.92" font-weight="bold" fill="#000">-1</text>
<text transform="translate(648.91,816.53) scale(1.2867,1)" font-size="28.31" font-weight="bold" fill="#000">)</text>
<text transform="translate(44.63,659.69) rotate(-90) scale(0.8525,1)" font-size="29.01" font-weight="bold">Voltage (V)</text>
<text transform="translate(740.28,488) scale(1.2940,1)" font-size="26.52" font-weight="bold" fill="#000">PI</text>
<text transform="translate(844.27,488.14) scale(1.3077,1)" font-size="32.6" font-weight="bold" fill="#000">(b)</text>
<line x1="716" y1="530" x2="782.2" y2="530" stroke="#e8000a" stroke-width="3.4"/>
<text transform="translate(799.6,538.37) scale(1.2250,1)" font-size="24" font-weight="normal" fill="#000">1st</text>
<line x1="716" y1="559.8" x2="782.2" y2="559.8" stroke="#0000e6" stroke-width="3.4"/>
<text transform="translate(799.6,568.17) scale(1.2250,1)" font-size="24" font-weight="normal" fill="#000">2nd</text>
<line x1="716" y1="589.4" x2="782.2" y2="589.4" stroke="#ff00ff" stroke-width="3.4"/>
<text transform="translate(799.6,597.77) scale(1.2250,1)" font-size="24" font-weight="normal" fill="#000">5th</text>
<line x1="716" y1="619" x2="782.2" y2="619" stroke="#700000" stroke-width="3.4"/>
<text transform="translate(799.6,627.37) scale(1.2250,1)" font-size="24" font-weight="normal" fill="#000">10th</text>
<line x1="716" y1="646.2" x2="782.2" y2="646.2" stroke="#000000" stroke-width="3.4"/>
<text transform="translate(799.6,654.57) scale(1.2250,1)" font-size="24" font-weight="normal" fill="#000">20th</text>
<line x1="718.1" y1="673" x2="784.2" y2="673" stroke="#007800" stroke-width="3.4"/>
<text transform="translate(799.6,681.37) scale(1.2250,1)" font-size="24" font-weight="normal" fill="#000">50th</text>
<line x1="716" y1="702.9" x2="782.2" y2="702.9" stroke="#000080" stroke-width="3.4"/>
<text transform="translate(799.6,711.27) scale(1.2250,1)" font-size="24" font-weight="normal" fill="#000">100th</text>
<path d="M144.3,1132.31a7.0,5.3 0 1,0 14,0a7.0,5.3 0 1,0 -14,0M146.99,1115.14a7.0,5.3 0 1,0 14,0a7.0,5.3 0 1,0 -14,0M149.69,1100.52a7.0,5.3 0 1,0 14,0a7.0,5.3 0 1,0 -14,0M152.38,1087.12a7.0,5.3 0 1,0 14,0a7.0,5.3 0 1,0 -14,0M155.08,1076.89a7.0,5.3 0 1,0 14,0a7.0,5.3 0 1,0 -14,0M157.77,1070.31a7.0,5.3 0 1,0 14,0a7.0,5.3 0 1,0 -14,0M160.47,1065.5a7.0,5.3 0 1,0 14,0a7.0,5.3 0 1,0 -14,0M163.16,1060.52a7.0,5.3 0 1,0 14,0a7.0,5.3 0 1,0 -14,0M165.86,1056.46a7.0,5.3 0 1,0 14,0a7.0,5.3 0 1,0 -14,0M168.55,1053.18a7.0,5.3 0 1,0 14,0a7.0,5.3 0 1,0 -14,0M171.25,1051.13a7.0,5.3 0 1,0 14,0a7.0,5.3 0 1,0 -14,0M173.94,1049.03a7.0,5.3 0 1,0 14,0a7.0,5.3 0 1,0 -14,0M176.64,1047.52a7.0,5.3 0 1,0 14,0a7.0,5.3 0 1,0 -14,0M179.33,1046.14a7.0,5.3 0 1,0 14,0a7.0,5.3 0 1,0 -14,0M182.03,1044.33a7.0,5.3 0 1,0 14,0a7.0,5.3 0 1,0 -14,0M184.73,1043.97a7.0,5.3 0 1,0 14,0a7.0,5.3 0 1,0 -14,0M187.42,1043.88a7.0,5.3 0 1,0 14,0a7.0,5.3 0 1,0 -14,0M190.12,1043.63a7.0,5.3 0 1,0 14,0a7.0,5.3 0 1,0 -14,0M192.81,1043.89a7.0,5.3 0 1,0 14,0a7.0,5.3 0 1,0 -14,0M195.51,1042.91a7.0,5.3 0 1,0 14,0a7.0,5.3 0 1,0 -14,0M198.2,1043.39a7.0,5.3 0 1,0 14,0a7.0,5.3 0 1,0 -14,0M200.9,1042.89a7.0,5.3 0 1,0 14,0a7.0,5.3 0 1,0 -14,0M203.59,1043.42a7.0,5.3 0 1,0 14,0a7.0,5.3 0 1,0 -14,0M206.29,1042.68a7.0,5.3 0 1,0 14,0a7.0,5.3 0 1,0 -14,0M208.98,1043.26a7.0,5.3 0 1,0 14,0a7.0,5.3 0 1,0 -14,0M211.68,1043a7.0,5.3 0 1,0 14,0a7.0,5.3 0 1,0 -14,0M214.37,1043.45a7.0,5.3 0 1,0 14,0a7.0,5.3 0 1,0 -14,0M217.07,1044.74a7.0,5.3 0 1,0 14,0a7.0,5.3 0 1,0 -14,0M219.77,1044.15a7.0,5.3 0 1,0 14,0a7.0,5.3 0 1,0 -14,0M222.46,1045.26a7.0,5.3 0 1,0 14,0a7.0,5.3 0 1,0 -14,0M225.16,1045.06a7.0,5.3 0 1,0 14,0a7.0,5.3 0 1,0 -14,0M227.85,1044.7a7.0,5.3 0 1,0 14,0a7.0,5.3 0 1,0 -14,0M230.55,1046.07a7.0,5.3 0 1,0 14,0a7.0,5.3 0 1,0 -14,0M233.24,1045.36a7.0,5.3 0 1,0 14,0a7.0,5.3 0 1,0 -14,0M235.94,1046.78a7.0,5.3 0 1,0 14,0a7.0,5.3 0 1,0 -14,0M238.63,1045.97a7.0,5.3 0 1,0 14,0a7.0,5.3 0 1,0 -14,0M241.33,1047.23a7.0,5.3 0 1,0 14,0a7.0,5.3 0 1,0 -14,0M244.02,1046.86a7.0,5.3 0 1,0 14,0a7.0,5.3 0 1,0 -14,0M246.72,1047.43a7.0,5.3 0 1,0 14,0a7.0,5.3 0 1,0 -14,0M249.41,1048.61a7.0,5.3 0 1,0 14,0a7.0,5.3 0 1,0 -14,0M252.11,1048.27a7.0,5.3 0 1,0 14,0a7.0,5.3 0 1,0 -14,0M254.81,1048.81a7.0,5.3 0 1,0 14,0a7.0,5.3 0 1,0 -14,0M257.5,1049.21a7.0,5.3 0 1,0 14,0a7.0,5.3 0 1,0 -14,0M260.2,1048.61a7.0,5.3 0 1,0 14,0a7.0,5.3 0 1,0 -14,0M262.89,1049.9a7.0,5.3 0 1,0 14,0a7.0,5.3 0 1,0 -14,0M265.59,1050.27a7.0,5.3 0 1,0 14,0a7.0,5.3 0 1,0 -14,0M268.28,1049.47a7.0,5.3 0 1,0 14,0a7.0,5.3 0 1,0 -14,0M270.98,1050.27a7.0,5.3 0 1,0 14,0a7.0,5.3 0 1,0 -14,0M273.67,1050.16a7.0,5.3 0 1,0 14,0a7.0,5.3 0 1,0 -14,0M276.37,1051.04a7.0,5.3 0 1,0 14,0a7.0,5.3 0 1,0 -14,0M279.06,1050.27a7.0,5.3 0 1,0 14,0a7.0,5.3 0 1,0 -14,0M281.76,1051.15a7.0,5.3 0 1,0 14,0a7.0,5.3 0 1,0 -14,0M284.45,1051.71a7.0,5.3 0 1,0 14,0a7.0,5.3 0 1,0 -14,0M287.15,1051.78a7.0,5.3 0 1,0 14,0a7.0,5.3 0 1,0 -14,0M289.84,1051.03a7.0,5.3 0 1,0 14,0a7.0,5.3 0 1,0 -14,0M292.54,1052.16a7.0,5.3 0 1,0 14,0a7.0,5.3 0 1,0 -14,0M295.24,1051.43a7.0,5.3 0 1,0 14,0a7.0,5.3 0 1,0 -14,0M297.93,1052.33a7.0,5.3 0 1,0 14,0a7.0,5.3 0 1,0 -14,0M300.63,1052a7.0,5.3 0 1,0 14,0a7.0,5.3 0 1,0 -14,0M303.32,1051.64a7.0,5.3 0 1,0 14,0a7.0,5.3 0 1,0 -14,0M306.02,1052.54a7.0,5.3 0 1,0 14,0a7.0,5.3 0 1,0 -14,0M308.71,1052.73a7.0,5.3 0 1,0 14,0a7.0,5.3 0 1,0 -14,0M311.41,1052.65a7.0,5.3 0 1,0 14,0a7.0,5.3 0 1,0 -14,0M314.1,1053.08a7.0,5.3 0 1,0 14,0a7.0,5.3 0 1,0 -14,0M316.8,1052.14a7.0,5.3 0 1,0 14,0a7.0,5.3 0 1,0 -14,0M319.49,1052.17a7.0,5.3 0 1,0 14,0a7.0,5.3 0 1,0 -14,0M322.19,1052.09a7.0,5.3 0 1,0 14,0a7.0,5.3 0 1,0 -14,0M324.88,1052.7a7.0,5.3 0 1,0 14,0a7.0,5.3 0 1,0 -14,0M327.58,1052.57a7.0,5.3 0 1,0 14,0a7.0,5.3 0 1,0 -14,0M330.27,1052.58a7.0,5.3 0 1,0 14,0a7.0,5.3 0 1,0 -14,0M332.97,1052.81a7.0,5.3 0 1,0 14,0a7.0,5.3 0 1,0 -14,0M335.67,1052.61a7.0,5.3 0 1,0 14,0a7.0,5.3 0 1,0 -14,0M338.36,1052.29a7.0,5.3 0 1,0 14,0a7.0,5.3 0 1,0 -14,0M341.06,1052.99a7.0,5.3 0 1,0 14,0a7.0,5.3 0 1,0 -14,0M343.75,1052.77a7.0,5.3 0 1,0 14,0a7.0,5.3 0 1,0 -14,0M346.45,1053.06a7.0,5.3 0 1,0 14,0a7.0,5.3 0 1,0 -14,0M349.14,1053.78a7.0,5.3 0 1,0 14,0a7.0,5.3 0 1,0 -14,0M351.84,1052.78a7.0,5.3 0 1,0 14,0a7.0,5.3 0 1,0 -14,0M354.53,1053.46a7.0,5.3 0 1,0 14,0a7.0,5.3 0 1,0 -14,0M357.23,1053.5a7.0,5.3 0 1,0 14,0a7.0,5.3 0 1,0 -14,0M359.92,1053.02a7.0,5.3 0 1,0 14,0a7.0,5.3 0 1,0 -14,0M362.62,1053.33a7.0,5.3 0 1,0 14,0a7.0,5.3 0 1,0 -14,0M365.31,1054.08a7.0,5.3 0 1,0 14,0a7.0,5.3 0 1,0 -14,0M368.01,1053.29a7.0,5.3 0 1,0 14,0a7.0,5.3 0 1,0 -14,0M370.71,1053.92a7.0,5.3 0 1,0 14,0a7.0,5.3 0 1,0 -14,0M373.4,1054.24a7.0,5.3 0 1,0 14,0a7.0,5.3 0 1,0 -14,0M376.1,1054.44a7.0,5.3 0 1,0 14,0a7.0,5.3 0 1,0 -14,0M378.79,1056.83a7.0,5.3 0 1,0 14,0a7.0,5.3 0 1,0 -14,0M381.49,1057.34a7.0,5.3 0 1,0 14,0a7.0,5.3 0 1,0 -14,0M384.18,1057.52a7.0,5.3 0 1,0 14,0a7.0,5.3 0 1,0 -14,0M386.88,1058.12a7.0,5.3 0 1,0 14,0a7.0,5.3 0 1,0 -14,0M389.57,1057.95a7.0,5.3 0 1,0 14,0a7.0,5.3 0 1,0 -14,0M392.27,1058.55a7.0,5.3 0 1,0 14,0a7.0,5.3 0 1,0 -14,0M394.96,1058.1a7.0,5.3 0 1,0 14,0a7.0,5.3 0 1,0 -14,0M397.66,1059.16a7.0,5.3 0 1,0 14,0a7.0,5.3 0 1,0 -14,0M400.35,1058.77a7.0,5.3 0 1,0 14,0a7.0,5.3 0 1,0 -14,0M403.05,1058.5a7.0,5.3 0 1,0 14,0a7.0,5.3 0 1,0 -14,0M405.75,1058.95a7.0,5.3 0 1,0 14,0a7.0,5.3 0 1,0 -14,0M408.44,1059.77a7.0,5.3 0 1,0 14,0a7.0,5.3 0 1,0 -14,0M411.14,1059.82a7.0,5.3 0 1,0 14,0a7.0,5.3 0 1,0 -14,0M413.83,1059.5a7.0,5.3 0 1,0 14,0a7.0,5.3 0 1,0 -14,0M416.53,1059.38a7.0,5.3 0 1,0 14,0a7.0,5.3 0 1,0 -14,0M419.22,1059.08a7.0,5.3 0 1,0 14,0a7.0,5.3 0 1,0 -14,0M421.92,1058.65a7.0,5.3 0 1,0 14,0a7.0,5.3 0 1,0 -14,0M424.61,1056.86a7.0,5.3 0 1,0 14,0a7.0,5.3 0 1,0 -14,0M427.31,1057.97a7.0,5.3 0 1,0 14,0a7.0,5.3 0 1,0 -14,0M430,1057.97a7.0,5.3 0 1,0 14,0a7.0,5.3 0 1,0 -14,0M432.7,1057.14a7.0,5.3 0 1,0 14,0a7.0,5.3 0 1,0 -14,0M435.39,1057.39a7.0,5.3 0 1,0 14,0a7.0,5.3 0 1,0 -14,0M438.09,1057.8a7.0,5.3 0 1,0 14,0a7.0,5.3 0 1,0 -14,0M440.78,1058.26a7.0,5.3 0 1,0 14,0a7.0,5.3 0 1,0 -14,0M443.48,1058.63a7.0,5.3 0 1,0 14,0a7.0,5.3 0 1,0 -14,0M446.18,1058.87a7.0,5.3 0 1,0 14,0a7.0,5.3 0 1,0 -14,0M448.87,1058.08a7.0,5.3 0 1,0 14,0a7.0,5.3 0 1,0 -14,0M451.57,1058.18a7.0,5.3 0 1,0 14,0a7.0,5.3 0 1,0 -14,0M454.26,1058.83a7.0,5.3 0 1,0 14,0a7.0,5.3 0 1,0 -14,0M456.96,1059.17a7.0,5.3 0 1,0 14,0a7.0,5.3 0 1,0 -14,0M459.65,1059.56a7.0,5.3 0 1,0 14,0a7.0,5.3 0 1,0 -14,0M462.35,1059.05a7.0,5.3 0 1,0 14,0a7.0,5.3 0 1,0 -14,0M465.04,1060.06a7.0,5.3 0 1,0 14,0a7.0,5.3 0 1,0 -14,0M467.74,1060.69a7.0,5.3 0 1,0 14,0a7.0,5.3 0 1,0 -14,0M470.43,1060.93a7.0,5.3 0 1,0 14,0a7.0,5.3 0 1,0 -14,0M473.13,1061.2a7.0,5.3 0 1,0 14,0a7.0,5.3 0 1,0 -14,0M475.82,1061.39a7.0,5.3 0 1,0 14,0a7.0,5.3 0 1,0 -14,0M478.52,1061.65a7.0,5.3 0 1,0 14,0a7.0,5.3 0 1,0 -14,0M481.22,1060.55a7.0,5.3 0 1,0 14,0a7.0,5.3 0 1,0 -14,0M483.91,1061.93a7.0,5.3 0 1,0 14,0a7.0,5.3 0 1,0 -14,0M486.61,1061.17a7.0,5.3 0 1,0 14,0a7.0,5.3 0 1,0 -14,0M489.3,1061.37a7.0,5.3 0 1,0 14,0a7.0,5.3 0 1,0 -14,0M492,1061.68a7.0,5.3 0 1,0 14,0a7.0,5.3 0 1,0 -14,0M494.69,1062.49a7.0,5.3 0 1,0 14,0a7.0,5.3 0 1,0 -14,0M497.39,1062.12a7.0,5.3 0 1,0 14,0a7.0,5.3 0 1,0 -14,0M500.08,1061.89a7.0,5.3 0 1,0 14,0a7.0,5.3 0 1,0 -14,0M502.78,1062.05a7.0,5.3 0 1,0 14,0a7.0,5.3 0 1,0 -14,0M505.47,1062.93a7.0,5.3 0 1,0 14,0a7.0,5.3 0 1,0 -14,0M508.17,1062.97a7.0,5.3 0 1,0 14,0a7.0,5.3 0 1,0 -14,0M510.86,1062.19a7.0,5.3 0 1,0 14,0a7.0,5.3 0 1,0 -14,0M513.56,1062.55a7.0,5.3 0 1,0 14,0a7.0,5.3 0 1,0 -14,0M516.25,1062.95a7.0,5.3 0 1,0 14,0a7.0,5.3 0 1,0 -14,0M518.95,1062.97a7.0,5.3 0 1,0 14,0a7.0,5.3 0 1,0 -14,0M521.65,1063.71a7.0,5.3 0 1,0 14,0a7.0,5.3 0 1,0 -14,0M524.34,1063.49a7.0,5.3 0 1,0 14,0a7.0,5.3 0 1,0 -14,0M527.04,1064.24a7.0,5.3 0 1,0 14,0a7.0,5.3 0 1,0 -14,0M529.73,1065a7.0,5.3 0 1,0 14,0a7.0,5.3 0 1,0 -14,0M532.43,1065.12a7.0,5.3 0 1,0 14,0a7.0,5.3 0 1,0 -14,0M535.12,1064.3a7.0,5.3 0 1,0 14,0a7.0,5.3 0 1,0 -14,0M537.82,1064.66a7.0,5.3 0 1,0 14,0a7.0,5.3 0 1,0 -14,0M540.51,1065.13a7.0,5.3 0 1,0 14,0a7.0,5.3 0 1,0 -14,0M543.21,1065.63a7.0,5.3 0 1,0 14,0a7.0,5.3 0 1,0 -14,0M545.9,1065.44a7.0,5.3 0 1,0 14,0a7.0,5.3 0 1,0 -14,0M548.6,1065.42a7.0,5.3 0 1,0 14,0a7.0,5.3 0 1,0 -14,0M551.29,1065.71a7.0,5.3 0 1,0 14,0a7.0,5.3 0 1,0 -14,0M553.99,1065.67a7.0,5.3 0 1,0 14,0a7.0,5.3 0 1,0 -14,0M556.68,1066.75a7.0,5.3 0 1,0 14,0a7.0,5.3 0 1,0 -14,0M559.38,1066.67a7.0,5.3 0 1,0 14,0a7.0,5.3 0 1,0 -14,0M562.08,1066.42a7.0,5.3 0 1,0 14,0a7.0,5.3 0 1,0 -14,0M564.77,1066.97a7.0,5.3 0 1,0 14,0a7.0,5.3 0 1,0 -14,0M567.47,1066.86a7.0,5.3 0 1,0 14,0a7.0,5.3 0 1,0 -14,0M570.16,1067.01a7.0,5.3 0 1,0 14,0a7.0,5.3 0 1,0 -14,0M572.86,1066.92a7.0,5.3 0 1,0 14,0a7.0,5.3 0 1,0 -14,0M575.55,1067.22a7.0,5.3 0 1,0 14,0a7.0,5.3 0 1,0 -14,0M578.25,1068.05a7.0,5.3 0 1,0 14,0a7.0,5.3 0 1,0 -14,0M580.94,1067.9a7.0,5.3 0 1,0 14,0a7.0,5.3 0 1,0 -14,0M583.64,1068.09a7.0,5.3 0 1,0 14,0a7.0,5.3 0 1,0 -14,0M586.33,1067.24a7.0,5.3 0 1,0 14,0a7.0,5.3 0 1,0 -14,0M589.03,1067.89a7.0,5.3 0 1,0 14,0a7.0,5.3 0 1,0 -14,0M591.72,1067.82a7.0,5.3 0 1,0 14,0a7.0,5.3 0 1,0 -14,0M594.42,1067.56a7.0,5.3 0 1,0 14,0a7.0,5.3 0 1,0 -14,0M597.12,1068.11a7.0,5.3 0 1,0 14,0a7.0,5.3 0 1,0 -14,0M599.81,1067.78a7.0,5.3 0 1,0 14,0a7.0,5.3 0 1,0 -14,0M602.51,1068.12a7.0,5.3 0 1,0 14,0a7.0,5.3 0 1,0 -14,0M605.2,1069.03a7.0,5.3 0 1,0 14,0a7.0,5.3 0 1,0 -14,0M607.9,1069a7.0,5.3 0 1,0 14,0a7.0,5.3 0 1,0 -14,0M610.59,1069.13a7.0,5.3 0 1,0 14,0a7.0,5.3 0 1,0 -14,0M613.29,1068.39a7.0,5.3 0 1,0 14,0a7.0,5.3 0 1,0 -14,0M615.98,1068.62a7.0,5.3 0 1,0 14,0a7.0,5.3 0 1,0 -14,0M618.68,1068.53a7.0,5.3 0 1,0 14,0a7.0,5.3 0 1,0 -14,0M621.37,1068.74a7.0,5.3 0 1,0 14,0a7.0,5.3 0 1,0 -14,0M624.07,1068.85a7.0,5.3 0 1,0 14,0a7.0,5.3 0 1,0 -14,0M626.76,1070.16a7.0,5.3 0 1,0 14,0a7.0,5.3 0 1,0 -14,0M629.46,1070.17a7.0,5.3 0 1,0 14,0a7.0,5.3 0 1,0 -14,0M632.15,1069.33a7.0,5.3 0 1,0 14,0a7.0,5.3 0 1,0 -14,0M634.85,1069.52a7.0,5.3 0 1,0 14,0a7.0,5.3 0 1,0 -14,0M637.55,1070.64a7.0,5.3 0 1,0 14,0a7.0,5.3 0 1,0 -14,0M640.24,1070.22a7.0,5.3 0 1,0 14,0a7.0,5.3 0 1,0 -14,0M642.94,1070.08a7.0,5.3 0 1,0 14,0a7.0,5.3 0 1,0 -14,0M645.63,1070.35a7.0,5.3 0 1,0 14,0a7.0,5.3 0 1,0 -14,0M648.33,1070.22a7.0,5.3 0 1,0 14,0a7.0,5.3 0 1,0 -14,0M651.02,1070.8a7.0,5.3 0 1,0 14,0a7.0,5.3 0 1,0 -14,0M653.72,1071.14a7.0,5.3 0 1,0 14,0a7.0,5.3 0 1,0 -14,0M656.41,1071a7.0,5.3 0 1,0 14,0a7.0,5.3 0 1,0 -14,0M659.11,1071.57a7.0,5.3 0 1,0 14,0a7.0,5.3 0 1,0 -14,0M661.8,1070.73a7.0,5.3 0 1,0 14,0a7.0,5.3 0 1,0 -14,0M664.5,1071.57a7.0,5.3 0 1,0 14,0a7.0,5.3 0 1,0 -14,0M667.19,1072.26a7.0,5.3 0 1,0 14,0a7.0,5.3 0 1,0 -14,0M669.89,1071.24a7.0,5.3 0 1,0 14,0a7.0,5.3 0 1,0 -14,0M672.59,1071.87a7.0,5.3 0 1,0 14,0a7.0,5.3 0 1,0 -14,0M675.28,1072.22a7.0,5.3 0 1,0 14,0a7.0,5.3 0 1,0 -14,0M677.98,1071.96a7.0,5.3 0 1,0 14,0a7.0,5.3 0 1,0 -14,0M680.67,1072.99a7.0,5.3 0 1,0 14,0a7.0,5.3 0 1,0 -14,0M683.37,1072.47a7.0,5.3 0 1,0 14,0a7.0,5.3 0 1,0 -14,0M686.06,1072.61a7.0,5.3 0 1,0 14,0a7.0,5.3 0 1,0 -14,0M688.76,1073.35a7.0,5.3 0 1,0 14,0a7.0,5.3 0 1,0 -14,0M691.45,1072.26a7.0,5.3 0 1,0 14,0a7.0,5.3 0 1,0 -14,0M694.15,1073.59a7.0,5.3 0 1,0 14,0a7.0,5.3 0 1,0 -14,0M696.84,1072.7a7.0,5.3 0 1,0 14,0a7.0,5.3 0 1,0 -14,0M699.54,1073.19a7.0,5.3 0 1,0 14,0a7.0,5.3 0 1,0 -14,0M702.23,1073.48a7.0,5.3 0 1,0 14,0a7.0,5.3 0 1,0 -14,0M704.93,1073.6a7.0,5.3 0 1,0 14,0a7.0,5.3 0 1,0 -14,0M707.62,1073.13a7.0,5.3 0 1,0 14,0a7.0,5.3 0 1,0 -14,0M710.32,1073.66a7.0,5.3 0 1,0 14,0a7.0,5.3 0 1,0 -14,0M713.02,1073.86a7.0,5.3 0 1,0 14,0a7.0,5.3 0 1,0 -14,0M715.71,1074.84a7.0,5.3 0 1,0 14,0a7.0,5.3 0 1,0 -14,0M718.41,1074.92a7.0,5.3 0 1,0 14,0a7.0,5.3 0 1,0 -14,0M721.1,1074.59a7.0,5.3 0 1,0 14,0a7.0,5.3 0 1,0 -14,0M723.8,1075.22a7.0,5.3 0 1,0 14,0a7.0,5.3 0 1,0 -14,0M726.49,1075.26a7.0,5.3 0 1,0 14,0a7.0,5.3 0 1,0 -14,0M729.19,1074.72a7.0,5.3 0 1,0 14,0a7.0,5.3 0 1,0 -14,0M731.88,1074.49a7.0,5.3 0 1,0 14,0a7.0,5.3 0 1,0 -14,0M734.58,1075.31a7.0,5.3 0 1,0 14,0a7.0,5.3 0 1,0 -14,0M737.27,1075.05a7.0,5.3 0 1,0 14,0a7.0,5.3 0 1,0 -14,0M739.97,1074.74a7.0,5.3 0 1,0 14,0a7.0,5.3 0 1,0 -14,0M742.66,1076.23a7.0,5.3 0 1,0 14,0a7.0,5.3 0 1,0 -14,0M745.36,1076.34a7.0,5.3 0 1,0 14,0a7.0,5.3 0 1,0 -14,0M748.06,1075.86a7.0,5.3 0 1,0 14,0a7.0,5.3 0 1,0 -14,0M750.75,1076.1a7.0,5.3 0 1,0 14,0a7.0,5.3 0 1,0 -14,0M753.45,1076.29a7.0,5.3 0 1,0 14,0a7.0,5.3 0 1,0 -14,0M756.14,1076.77a7.0,5.3 0 1,0 14,0a7.0,5.3 0 1,0 -14,0M758.84,1076.25a7.0,5.3 0 1,0 14,0a7.0,5.3 0 1,0 -14,0M761.53,1076.52a7.0,5.3 0 1,0 14,0a7.0,5.3 0 1,0 -14,0M764.23,1076.13a7.0,5.3 0 1,0 14,0a7.0,5.3 0 1,0 -14,0M766.92,1076.26a7.0,5.3 0 1,0 14,0a7.0,5.3 0 1,0 -14,0M769.62,1076.76a7.0,5.3 0 1,0 14,0a7.0,5.3 0 1,0 -14,0M772.31,1076.46a7.0,5.3 0 1,0 14,0a7.0,5.3 0 1,0 -14,0M775.01,1076.29a7.0,5.3 0 1,0 14,0a7.0,5.3 0 1,0 -14,0M777.7,1076.86a7.0,5.3 0 1,0 14,0a7.0,5.3 0 1,0 -14,0M780.4,1077.5a7.0,5.3 0 1,0 14,0a7.0,5.3 0 1,0 -14,0M783.09,1076.94a7.0,5.3 0 1,0 14,0a7.0,5.3 0 1,0 -14,0M785.79,1077.87a7.0,5.3 0 1,0 14,0a7.0,5.3 0 1,0 -14,0M788.49,1077.74a7.0,5.3 0 1,0 14,0a7.0,5.3 0 1,0 -14,0M791.18,1077.77a7.0,5.3 0 1,0 14,0a7.0,5.3 0 1,0 -14,0M793.88,1078.21a7.0,5.3 0 1,0 14,0a7.0,5.3 0 1,0 -14,0M796.57,1077.16a7.0,5.3 0 1,0 14,0a7.0,5.3 0 1,0 -14,0M799.27,1077.4a7.0,5.3 0 1,0 14,0a7.0,5.3 0 1,0 -14,0M801.96,1078.52a7.0,5.3 0 1,0 14,0a7.0,5.3 0 1,0 -14,0M804.66,1078.61a7.0,5.3 0 1,0 14,0a7.0,5.3 0 1,0 -14,0M807.35,1077.55a7.0,5.3 0 1,0 14,0a7.0,5.3 0 1,0 -14,0M810.05,1078.62a7.0,5.3 0 1,0 14,0a7.0,5.3 0 1,0 -14,0M812.74,1077.65a7.0,5.3 0 1,0 14,0a7.0,5.3 0 1,0 -14,0M815.44,1077.91a7.0,5.3 0 1,0 14,0a7.0,5.3 0 1,0 -14,0M818.13,1077.96a7.0,5.3 0 1,0 14,0a7.0,5.3 0 1,0 -14,0M820.83,1078.31a7.0,5.3 0 1,0 14,0a7.0,5.3 0 1,0 -14,0M823.53,1078.53a7.0,5.3 0 1,0 14,0a7.0,5.3 0 1,0 -14,0M826.22,1079.35a7.0,5.3 0 1,0 14,0a7.0,5.3 0 1,0 -14,0M828.92,1078.78a7.0,5.3 0 1,0 14,0a7.0,5.3 0 1,0 -14,0M831.61,1078.43a7.0,5.3 0 1,0 14,0a7.0,5.3 0 1,0 -14,0M834.31,1078.72a7.0,5.3 0 1,0 14,0a7.0,5.3 0 1,0 -14,0M837,1078.43a7.0,5.3 0 1,0 14,0a7.0,5.3 0 1,0 -14,0M839.7,1078.55a7.0,5.3 0 1,0 14,0a7.0,5.3 0 1,0 -14,0M842.39,1079.2a7.0,5.3 0 1,0 14,0a7.0,5.3 0 1,0 -14,0M845.09,1079.39a7.0,5.3 0 1,0 14,0a7.0,5.3 0 1,0 -14,0M847.78,1079.11a7.0,5.3 0 1,0 14,0a7.0,5.3 0 1,0 -14,0M850.48,1079.37a7.0,5.3 0 1,0 14,0a7.0,5.3 0 1,0 -14,0M853.17,1079.07a7.0,5.3 0 1,0 14,0a7.0,5.3 0 1,0 -14,0M855.87,1079.93a7.0,5.3 0 1,0 14,0a7.0,5.3 0 1,0 -14,0M858.56,1079.63a7.0,5.3 0 1,0 14,0a7.0,5.3 0 1,0 -14,0M861.26,1079.39a7.0,5.3 0 1,0 14,0a7.0,5.3 0 1,0 -14,0M863.96,1079.94a7.0,5.3 0 1,0 14,0a7.0,5.3 0 1,0 -14,0M866.65,1079.61a7.0,5.3 0 1,0 14,0a7.0,5.3 0 1,0 -14,0M869.35,1079.81a7.0,5.3 0 1,0 14,0a7.0,5.3 0 1,0 -14,0M872.04,1079.65a7.0,5.3 0 1,0 14,0a7.0,5.3 0 1,0 -14,0M874.74,1080.64a7.0,5.3 0 1,0 14,0a7.0,5.3 0 1,0 -14,0M877.43,1080.01a7.0,5.3 0 1,0 14,0a7.0,5.3 0 1,0 -14,0M880.13,1081.03a7.0,5.3 0 1,0 14,0a7.0,5.3 0 1,0 -14,0M882.82,1080.32a7.0,5.3 0 1,0 14,0a7.0,5.3 0 1,0 -14,0M885.52,1080.04a7.0,5.3 0 1,0 14,0a7.0,5.3 0 1,0 -14,0M888.21,1080.88a7.0,5.3 0 1,0 14,0a7.0,5.3 0 1,0 -14,0M890.91,1080.99a7.0,5.3 0 1,0 14,0a7.0,5.3 0 1,0 -14,0M893.6,1081.26a7.0,5.3 0 1,0 14,0a7.0,5.3 0 1,0 -14,0M896.3,1080.27a7.0,5.3 0 1,0 14,0a7.0,5.3 0 1,0 -14,0" fill="#e8000a"/>
<path d="M144.3,1124.39a7.0,5.3 0 1,0 14,0a7.0,5.3 0 1,0 -14,0M146.99,1110.63a7.0,5.3 0 1,0 14,0a7.0,5.3 0 1,0 -14,0M149.69,1096.99a7.0,5.3 0 1,0 14,0a7.0,5.3 0 1,0 -14,0M152.38,1084.08a7.0,5.3 0 1,0 14,0a7.0,5.3 0 1,0 -14,0M155.08,1074.45a7.0,5.3 0 1,0 14,0a7.0,5.3 0 1,0 -14,0M157.77,1068.37a7.0,5.3 0 1,0 14,0a7.0,5.3 0 1,0 -14,0M160.47,1064.04a7.0,5.3 0 1,0 14,0a7.0,5.3 0 1,0 -14,0M163.16,1059.68a7.0,5.3 0 1,0 14,0a7.0,5.3 0 1,0 -14,0M165.86,1056.09a7.0,5.3 0 1,0 14,0a7.0,5.3 0 1,0 -14,0M168.55,1053a7.0,5.3 0 1,0 14,0a7.0,5.3 0 1,0 -14,0M171.25,1051.08a7.0,5.3 0 1,0 14,0a7.0,5.3 0 1,0 -14,0M173.94,1049.03a7.0,5.3 0 1,0 14,0a7.0,5.3 0 1,0 -14,0M176.64,1047.52a7.0,5.3 0 1,0 14,0a7.0,5.3 0 1,0 -14,0M179.33,1046.14a7.0,5.3 0 1,0 14,0a7.0,5.3 0 1,0 -14,0M182.03,1044.33a7.0,5.3 0 1,0 14,0a7.0,5.3 0 1,0 -14,0M184.73,1043.97a7.0,5.3 0 1,0 14,0a7.0,5.3 0 1,0 -14,0M187.42,1043.88a7.0,5.3 0 1,0 14,0a7.0,5.3 0 1,0 -14,0M190.12,1043.63a7.0,5.3 0 1,0 14,0a7.0,5.3 0 1,0 -14,0M192.81,1043.89a7.0,5.3 0 1,0 14,0a7.0,5.3 0 1,0 -14,0M195.51,1042.91a7.0,5.3 0 1,0 14,0a7.0,5.3 0 1,0 -14,0M198.2,1043.39a7.0,5.3 0 1,0 14,0a7.0,5.3 0 1,0 -14,0M200.9,1042.89a7.0,5.3 0 1,0 14,0a7.0,5.3 0 1,0 -14,0M203.59,1043.42a7.0,5.3 0 1,0 14,0a7.0,5.3 0 1,0 -14,0M206.29,1042.68a7.0,5.3 0 1,0 14,0a7.0,5.3 0 1,0 -14,0M208.98,1043.26a7.0,5.3 0 1,0 14,0a7.0,5.3 0 1,0 -14,0M211.68,1043a7.0,5.3 0 1,0 14,0a7.0,5.3 0 1,0 -14,0M214.37,1043.45a7.0,5.3 0 1,0 14,0a7.0,5.3 0 1,0 -14,0M217.07,1044.74a7.0,5.3 0 1,0 14,0a7.0,5.3 0 1,0 -14,0M219.77,1044.15a7.0,5.3 0 1,0 14,0a7.0,5.3 0 1,0 -14,0M222.46,1045.26a7.0,5.3 0 1,0 14,0a7.0,5.3 0 1,0 -14,0M225.16,1045.06a7.0,5.3 0 1,0 14,0a7.0,5.3 0 1,0 -14,0M227.85,1044.7a7.0,5.3 0 1,0 14,0a7.0,5.3 0 1,0 -14,0M230.55,1046.07a7.0,5.3 0 1,0 14,0a7.0,5.3 0 1,0 -14,0M233.24,1045.36a7.0,5.3 0 1,0 14,0a7.0,5.3 0 1,0 -14,0M235.94,1046.78a7.0,5.3 0 1,0 14,0a7.0,5.3 0 1,0 -14,0M238.63,1045.97a7.0,5.3 0 1,0 14,0a7.0,5.3 0 1,0 -14,0M241.33,1047.23a7.0,5.3 0 1,0 14,0a7.0,5.3 0 1,0 -14,0M244.02,1046.86a7.0,5.3 0 1,0 14,0a7.0,5.3 0 1,0 -14,0M246.72,1047.43a7.0,5.3 0 1,0 14,0a7.0,5.3 0 1,0 -14,0M249.41,1048.61a7.0,5.3 0 1,0 14,0a7.0,5.3 0 1,0 -14,0M252.11,1048.27a7.0,5.3 0 1,0 14,0a7.0,5.3 0 1,0 -14,0M254.81,1048.81a7.0,5.3 0 1,0 14,0a7.0,5.3 0 1,0 -14,0M257.5,1049.21a7.0,5.3 0 1,0 14,0a7.0,5.3 0 1,0 -14,0M260.2,1048.61a7.0,5.3 0 1,0 14,0a7.0,5.3 0 1,0 -14,0M262.89,1049.9a7.0,5.3 0 1,0 14,0a7.0,5.3 0 1,0 -14,0M265.59,1050.27a7.0,5.3 0 1,0 14,0a7.0,5.3 0 1,0 -14,0M268.28,1049.47a7.0,5.3 0 1,0 14,0a7.0,5.3 0 1,0 -14,0M270.98,1050.27a7.0,5.3 0 1,0 14,0a7.0,5.3 0 1,0 -14,0M273.67,1050.16a7.0,5.3 0 1,0 14,0a7.0,5.3 0 1,0 -14,0M276.37,1051.04a7.0,5.3 0 1,0 14,0a7.0,5.3 0 1,0 -14,0M279.06,1050.29a7.0,5.3 0 1,0 14,0a7.0,5.3 0 1,0 -14,0M281.76,1051.2a7.0,5.3 0 1,0 14,0a7.0,5.3 0 1,0 -14,0M284.45,1051.82a7.0,5.3 0 1,0 14,0a7.0,5.3 0 1,0 -14,0M287.15,1051.95a7.0,5.3 0 1,0 14,0a7.0,5.3 0 1,0 -14,0M289.84,1051.29a7.0,5.3 0 1,0 14,0a7.0,5.3 0 1,0 -14,0M292.54,1052.51a7.0,5.3 0 1,0 14,0a7.0,5.3 0 1,0 -14,0M295.24,1051.88a7.0,5.3 0 1,0 14,0a7.0,5.3 0 1,0 -14,0M297.93,1052.88a7.0,5.3 0 1,0 14,0a7.0,5.3 0 1,0 -14,0M300.63,1052.64a7.0,5.3 0 1,0 14,0a7.0,5.3 0 1,0 -14,0M303.32,1052.37a7.0,5.3 0 1,0 14,0a7.0,5.3 0 1,0 -14,0M306.02,1053.37a7.0,5.3 0 1,0 14,0a7.0,5.3 0 1,0 -14,0M308.71,1053.66a7.0,5.3 0 1,0 14,0a7.0,5.3 0 1,0 -14,0M311.41,1053.69a7.0,5.3 0 1,0 14,0a7.0,5.3 0 1,0 -14,0M314.1,1054.24a7.0,5.3 0 1,0 14,0a7.0,5.3 0 1,0 -14,0M316.8,1053.42a7.0,5.3 0 1,0 14,0a7.0,5.3 0 1,0 -14,0M319.49,1053.56a7.0,5.3 0 1,0 14,0a7.0,5.3 0 1,0 -14,0M322.19,1053.59a7.0,5.3 0 1,0 14,0a7.0,5.3 0 1,0 -14,0M324.88,1054.29a7.0,5.3 0 1,0 14,0a7.0,5.3 0 1,0 -14,0M327.58,1054.23a7.0,5.3 0 1,0 14,0a7.0,5.3 0 1,0 -14,0M330.27,1054.29a7.0,5.3 0 1,0 14,0a7.0,5.3 0 1,0 -14,0M332.97,1054.55a7.0,5.3 0 1,0 14,0a7.0,5.3 0 1,0 -14,0M335.67,1054.38a7.0,5.3 0 1,0 14,0a7.0,5.3 0 1,0 -14,0M338.36,1054.09a7.0,5.3 0 1,0 14,0a7.0,5.3 0 1,0 -14,0M341.06,1054.82a7.0,5.3 0 1,0 14,0a7.0,5.3 0 1,0 -14,0M343.75,1054.62a7.0,5.3 0 1,0 14,0a7.0,5.3 0 1,0 -14,0M346.45,1054.94a7.0,5.3 0 1,0 14,0a7.0,5.3 0 1,0 -14,0M349.14,1055.69a7.0,5.3 0 1,0 14,0a7.0,5.3 0 1,0 -14,0M351.84,1054.71a7.0,5.3 0 1,0 14,0a7.0,5.3 0 1,0 -14,0M354.53,1055.41a7.0,5.3 0 1,0 14,0a7.0,5.3 0 1,0 -14,0M357.23,1055.47a7.0,5.3 0 1,0 14,0a7.0,5.3 0 1,0 -14,0M359.92,1055.01a7.0,5.3 0 1,0 14,0a7.0,5.3 0 1,0 -14,0M362.62,1055.34a7.0,5.3 0 1,0 14,0a7.0,5.3 0 1,0 -14,0M365.31,1056.11a7.0,5.3 0 1,0 14,0a7.0,5.3 0 1,0 -14,0M368.01,1055.32a7.0,5.3 0 1,0 14,0a7.0,5.3 0 1,0 -14,0M370.71,1055.96a7.0,5.3 0 1,0 14,0a7.0,5.3 0 1,0 -14,0M373.4,1056.3a7.0,5.3 0 1,0 14,0a7.0,5.3 0 1,0 -14,0M376.1,1056.5a7.0,5.3 0 1,0 14,0a7.0,5.3 0 1,0 -14,0M378.79,1058.89a7.0,5.3 0 1,0 14,0a7.0,5.3 0 1,0 -14,0M381.49,1059.41a7.0,5.3 0 1,0 14,0a7.0,5.3 0 1,0 -14,0M384.18,1059.59a7.0,5.3 0 1,0 14,0a7.0,5.3 0 1,0 -14,0M386.88,1060.19a7.0,5.3 0 1,0 14,0a7.0,5.3 0 1,0 -14,0M389.57,1060.02a7.0,5.3 0 1,0 14,0a7.0,5.3 0 1,0 -14,0M392.27,1060.62a7.0,5.3 0 1,0 14,0a7.0,5.3 0 1,0 -14,0M394.96,1060.17a7.0,5.3 0 1,0 14,0a7.0,5.3 0 1,0 -14,0M397.66,1061.23a7.0,5.3 0 1,0 14,0a7.0,5.3 0 1,0 -14,0M400.35,1060.84a7.0,5.3 0 1,0 14,0a7.0,5.3 0 1,0 -14,0M403.05,1060.57a7.0,5.3 0 1,0 14,0a7.0,5.3 0 1,0 -14,0M405.75,1061.02a7.0,5.3 0 1,0 14,0a7.0,5.3 0 1,0 -14,0M408.44,1061.84a7.0,5.3 0 1,0 14,0a7.0,5.3 0 1,0 -14,0M411.14,1061.89a7.0,5.3 0 1,0 14,0a7.0,5.3 0 1,0 -14,0M413.83,1061.57a7.0,5.3 0 1,0 14,0a7.0,5.3 0 1,0 -14,0M416.53,1061.45a7.0,5.3 0 1,0 14,0a7.0,5.3 0 1,0 -14,0M419.22,1061.15a7.0,5.3 0 1,0 14,0a7.0,5.3 0 1,0 -14,0M421.92,1060.72a7.0,5.3 0 1,0 14,0a7.0,5.3 0 1,0 -14,0M424.61,1058.93a7.0,5.3 0 1,0 14,0a7.0,5.3 0 1,0 -14,0M427.31,1060.04a7.0,5.3 0 1,0 14,0a7.0,5.3 0 1,0 -14,0M430,1060.04a7.0,5.3 0 1,0 14,0a7.0,5.3 0 1,0 -14,0M432.7,1059.21a7.0,5.3 0 1,0 14,0a7.0,5.3 0 1,0 -14,0M435.39,1059.46a7.0,5.3 0 1,0 14,0a7.0,5.3 0 1,0 -14,0M438.09,1059.87a7.0,5.3 0 1,0 14,0a7.0,5.3 0 1,0 -14,0M440.78,1060.33a7.0,5.3 0 1,0 14,0a7.0,5.3 0 1,0 -14,0M443.48,1060.7a7.0,5.3 0 1,0 14,0a7.0,5.3 0 1,0 -14,0M446.18,1060.95a7.0,5.3 0 1,0 14,0a7.0,5.3 0 1,0 -14,0M448.87,1060.16a7.0,5.3 0 1,0 14,0a7.0,5.3 0 1,0 -14,0M451.57,1060.25a7.0,5.3 0 1,0 14,0a7.0,5.3 0 1,0 -14,0M454.26,1060.9a7.0,5.3 0 1,0 14,0a7.0,5.3 0 1,0 -14,0M456.96,1061.24a7.0,5.3 0 1,0 14,0a7.0,5.3 0 1,0 -14,0M459.65,1061.63a7.0,5.3 0 1,0 14,0a7.0,5.3 0 1,0 -14,0M462.35,1061.12a7.0,5.3 0 1,0 14,0a7.0,5.3 0 1,0 -14,0M465.04,1062.13a7.0,5.3 0 1,0 14,0a7.0,5.3 0 1,0 -14,0M467.74,1062.76a7.0,5.3 0 1,0 14,0a7.0,5.3 0 1,0 -14,0M470.43,1063a7.0,5.3 0 1,0 14,0a7.0,5.3 0 1,0 -14,0M473.13,1063.27a7.0,5.3 0 1,0 14,0a7.0,5.3 0 1,0 -14,0M475.82,1063.46a7.0,5.3 0 1,0 14,0a7.0,5.3 0 1,0 -14,0M478.52,1063.72a7.0,5.3 0 1,0 14,0a7.0,5.3 0 1,0 -14,0M481.22,1062.62a7.0,5.3 0 1,0 14,0a7.0,5.3 0 1,0 -14,0M483.91,1064a7.0,5.3 0 1,0 14,0a7.0,5.3 0 1,0 -14,0M486.61,1063.24a7.0,5.3 0 1,0 14,0a7.0,5.3 0 1,0 -14,0M489.3,1063.44a7.0,5.3 0 1,0 14,0a7.0,5.3 0 1,0 -14,0M492,1063.75a7.0,5.3 0 1,0 14,0a7.0,5.3 0 1,0 -14,0M494.69,1064.57a7.0,5.3 0 1,0 14,0a7.0,5.3 0 1,0 -14,0M497.39,1064.19a7.0,5.3 0 1,0 14,0a7.0,5.3 0 1,0 -14,0M500.08,1063.96a7.0,5.3 0 1,0 14,0a7.0,5.3 0 1,0 -14,0M502.78,1064.12a7.0,5.3 0 1,0 14,0a7.0,5.3 0 1,0 -14,0M505.47,1065a7.0,5.3 0 1,0 14,0a7.0,5.3 0 1,0 -14,0M508.17,1065.04a7.0,5.3 0 1,0 14,0a7.0,5.3 0 1,0 -14,0M510.86,1064.26a7.0,5.3 0 1,0 14,0a7.0,5.3 0 1,0 -14,0M513.56,1064.62a7.0,5.3 0 1,0 14,0a7.0,5.3 0 1,0 -14,0M516.25,1065.02a7.0,5.3 0 1,0 14,0a7.0,5.3 0 1,0 -14,0M518.95,1065.04a7.0,5.3 0 1,0 14,0a7.0,5.3 0 1,0 -14,0M521.65,1065.78a7.0,5.3 0 1,0 14,0a7.0,5.3 0 1,0 -14,0M524.34,1065.56a7.0,5.3 0 1,0 14,0a7.0,5.3 0 1,0 -14,0M527.04,1066.31a7.0,5.3 0 1,0 14,0a7.0,5.3 0 1,0 -14,0M529.73,1067.07a7.0,5.3 0 1,0 14,0a7.0,5.3 0 1,0 -14,0M532.43,1067.19a7.0,5.3 0 1,0 14,0a7.0,5.3 0 1,0 -14,0M535.12,1066.37a7.0,5.3 0 1,0 14,0a7.0,5.3 0 1,0 -14,0M537.82,1066.73a7.0,5.3 0 1,0 14,0a7.0,5.3 0 1,0 -14,0M540.51,1067.2a7.0,5.3 0 1,0 14,0a7.0,5.3 0 1,0 -14,0M543.21,1067.7a7.0,5.3 0 1,0 14,0a7.0,5.3 0 1,0 -14,0M545.9,1067.51a7.0,5.3 0 1,0 14,0a7.0,5.3 0 1,0 -14,0M548.6,1067.49a7.0,5.3 0 1,0 14,0a7.0,5.3 0 1,0 -14,0M551.29,1067.78a7.0,5.3 0 1,0 14,0a7.0,5.3 0 1,0 -14,0M553.99,1067.74a7.0,5.3 0 1,0 14,0a7.0,5.3 0 1,0 -14,0M556.68,1068.82a7.0,5.3 0 1,0 14,0a7.0,5.3 0 1,0 -14,0M559.38,1068.74a7.0,5.3 0 1,0 14,0a7.0,5.3 0 1,0 -14,0M562.08,1068.49a7.0,5.3 0 1,0 14,0a7.0,5.3 0 1,0 -14,0M564.77,1069.04a7.0,5.3 0 1,0 14,0a7.0,5.3 0 1,0 -14,0M567.47,1068.93a7.0,5.3 0 1,0 14,0a7.0,5.3 0 1,0 -14,0M570.16,1069.08a7.0,5.3 0 1,0 14,0a7.0,5.3 0 1,0 -14,0M572.86,1068.99a7.0,5.3 0 1,0 14,0a7.0,5.3 0 1,0 -14,0M575.55,1069.3a7.0,5.3 0 1,0 14,0a7.0,5.3 0 1,0 -14,0M578.25,1070.12a7.0,5.3 0 1,0 14,0a7.0,5.3 0 1,0 -14,0M580.94,1069.97a7.0,5.3 0 1,0 14,0a7.0,5.3 0 1,0 -14,0M583.64,1070.16a7.0,5.3 0 1,0 14,0a7.0,5.3 0 1,0 -14,0M586.33,1069.31a7.0,5.3 0 1,0 14,0a7.0,5.3 0 1,0 -14,0M589.03,1069.96a7.0,5.3 0 1,0 14,0a7.0,5.3 0 1,0 -14,0M591.72,1069.89a7.0,5.3 0 1,0 14,0a7.0,5.3 0 1,0 -14,0M594.42,1069.63a7.0,5.3 0 1,0 14,0a7.0,5.3 0 1,0 -14,0M597.12,1070.18a7.0,5.3 0 1,0 14,0a7.0,5.3 0 1,0 -14,0M599.81,1069.85a7.0,5.3 0 1,0 14,0a7.0,5.3 0 1,0 -14,0M602.51,1070.19a7.0,5.3 0 1,0 14,0a7.0,5.3 0 1,0 -14,0M605.2,1071.11a7.0,5.3 0 1,0 14,0a7.0,5.3 0 1,0 -14,0M607.9,1071.07a7.0,5.3 0 1,0 14,0a7.0,5.3 0 1,0 -14,0M610.59,1071.2a7.0,5.3 0 1,0 14,0a7.0,5.3 0 1,0 -14,0M613.29,1070.46a7.0,5.3 0 1,0 14,0a7.0,5.3 0 1,0 -14,0M615.98,1070.69a7.0,5.3 0 1,0 14,0a7.0,5.3 0 1,0 -14,0M618.68,1070.6a7.0,5.3 0 1,0 14,0a7.0,5.3 0 1,0 -14,0M621.37,1070.81a7.0,5.3 0 1,0 14,0a7.0,5.3 0 1,0 -14,0M624.07,1070.92a7.0,5.3 0 1,0 14,0a7.0,5.3 0 1,0 -14,0M626.76,1072.23a7.0,5.3 0 1,0 14,0a7.0,5.3 0 1,0 -14,0M629.46,1072.24a7.0,5.3 0 1,0 14,0a7.0,5.3 0 1,0 -14,0M632.15,1071.4a7.0,5.3 0 1,0 14,0a7.0,5.3 0 1,0 -14,0M634.85,1071.59a7.0,5.3 0 1,0 14,0a7.0,5.3 0 1,0 -14,0M637.55,1072.71a7.0,5.3 0 1,0 14,0a7.0,5.3 0 1,0 -14,0M640.24,1072.29a7.0,5.3 0 1,0 14,0a7.0,5.3 0 1,0 -14,0M642.94,1072.15a7.0,5.3 0 1,0 14,0a7.0,5.3 0 1,0 -14,0M645.63,1072.42a7.0,5.3 0 1,0 14,0a7.0,5.3 0 1,0 -14,0M648.33,1072.29a7.0,5.3 0 1,0 14,0a7.0,5.3 0 1,0 -14,0M651.02,1072.87a7.0,5.3 0 1,0 14,0a7.0,5.3 0 1,0 -14,0M653.72,1073.21a7.0,5.3 0 1,0 14,0a7.0,5.3 0 1,0 -14,0M656.41,1073.07a7.0,5.3 0 1,0 14,0a7.0,5.3 0 1,0 -14,0M659.11,1073.64a7.0,5.3 0 1,0 14,0a7.0,5.3 0 1,0 -14,0M661.8,1072.8a7.0,5.3 0 1,0 14,0a7.0,5.3 0 1,0 -14,0M664.5,1073.64a7.0,5.3 0 1,0 14,0a7.0,5.3 0 1,0 -14,0M667.19,1074.33a7.0,5.3 0 1,0 14,0a7.0,5.3 0 1,0 -14,0M669.89,1073.31a7.0,5.3 0 1,0 14,0a7.0,5.3 0 1,0 -14,0M672.59,1073.95a7.0,5.3 0 1,0 14,0a7.0,5.3 0 1,0 -14,0M675.28,1074.29a7.0,5.3 0 1,0 14,0a7.0,5.3 0 1,0 -14,0M677.98,1074.03a7.0,5.3 0 1,0 14,0a7.0,5.3 0 1,0 -14,0M680.67,1075.06a7.0,5.3 0 1,0 14,0a7.0,5.3 0 1,0 -14,0M683.37,1074.54a7.0,5.3 0 1,0 14,0a7.0,5.3 0 1,0 -14,0M686.06,1074.68a7.0,5.3 0 1,0 14,0a7.0,5.3 0 1,0 -14,0M688.76,1075.42a7.0,5.3 0 1,0 14,0a7.0,5.3 0 1,0 -14,0M691.45,1074.33a7.0,5.3 0 1,0 14,0a7.0,5.3 0 1,0 -14,0M694.15,1075.66a7.0,5.3 0 1,0 14,0a7.0,5.3 0 1,0 -14,0M696.84,1074.77a7.0,5.3 0 1,0 14,0a7.0,5.3 0 1,0 -14,0M699.54,1075.26a7.0,5.3 0 1,0 14,0a7.0,5.3 0 1,0 -14,0M702.23,1075.55a7.0,5.3 0 1,0 14,0a7.0,5.3 0 1,0 -14,0M704.93,1075.67a7.0,5.3 0 1,0 14,0a7.0,5.3 0 1,0 -14,0M707.62,1075.2a7.0,5.3 0 1,0 14,0a7.0,5.3 0 1,0 -14,0M710.32,1075.73a7.0,5.3 0 1,0 14,0a7.0,5.3 0 1,0 -14,0M713.02,1075.93a7.0,5.3 0 1,0 14,0a7.0,5.3 0 1,0 -14,0M715.71,1076.91a7.0,5.3 0 1,0 14,0a7.0,5.3 0 1,0 -14,0M718.41,1076.99a7.0,5.3 0 1,0 14,0a7.0,5.3 0 1,0 -14,0M721.1,1076.67a7.0,5.3 0 1,0 14,0a7.0,5.3 0 1,0 -14,0M723.8,1077.29a7.0,5.3 0 1,0 14,0a7.0,5.3 0 1,0 -14,0M726.49,1077.33a7.0,5.3 0 1,0 14,0a7.0,5.3 0 1,0 -14,0M729.19,1076.79a7.0,5.3 0 1,0 14,0a7.0,5.3 0 1,0 -14,0M731.88,1076.56a7.0,5.3 0 1,0 14,0a7.0,5.3 0 1,0 -14,0M734.58,1077.38a7.0,5.3 0 1,0 14,0a7.0,5.3 0 1,0 -14,0M737.27,1077.12a7.0,5.3 0 1,0 14,0a7.0,5.3 0 1,0 -14,0M739.97,1076.81a7.0,5.3 0 1,0 14,0a7.0,5.3 0 1,0 -14,0M742.66,1078.3a7.0,5.3 0 1,0 14,0a7.0,5.3 0 1,0 -14,0M745.36,1078.41a7.0,5.3 0 1,0 14,0a7.0,5.3 0 1,0 -14,0M748.06,1077.94a7.0,5.3 0 1,0 14,0a7.0,5.3 0 1,0 -14,0M750.75,1078.17a7.0,5.3 0 1,0 14,0a7.0,5.3 0 1,0 -14,0M753.45,1078.36a7.0,5.3 0 1,0 14,0a7.0,5.3 0 1,0 -14,0M756.14,1078.84a7.0,5.3 0 1,0 14,0a7.0,5.3 0 1,0 -14,0M758.84,1078.32a7.0,5.3 0 1,0 14,0a7.0,5.3 0 1,0 -14,0M761.53,1078.59a7.0,5.3 0 1,0 14,0a7.0,5.3 0 1,0 -14,0M764.23,1078.2a7.0,5.3 0 1,0 14,0a7.0,5.3 0 1,0 -14,0M766.92,1078.33a7.0,5.3 0 1,0 14,0a7.0,5.3 0 1,0 -14,0M769.62,1078.83a7.0,5.3 0 1,0 14,0a7.0,5.3 0 1,0 -14,0M772.31,1078.53a7.0,5.3 0 1,0 14,0a7.0,5.3 0 1,0 -14,0M775.01,1078.36a7.0,5.3 0 1,0 14,0a7.0,5.3 0 1,0 -14,0M777.7,1078.94a7.0,5.3 0 1,0 14,0a7.0,5.3 0 1,0 -14,0M780.4,1079.57a7.0,5.3 0 1,0 14,0a7.0,5.3 0 1,0 -14,0M783.09,1079.01a7.0,5.3 0 1,0 14,0a7.0,5.3 0 1,0 -14,0M785.79,1079.94a7.0,5.3 0 1,0 14,0a7.0,5.3 0 1,0 -14,0M788.49,1079.81a7.0,5.3 0 1,0 14,0a7.0,5.3 0 1,0 -14,0M791.18,1079.84a7.0,5.3 0 1,0 14,0a7.0,5.3 0 1,0 -14,0M793.88,1080.28a7.0,5.3 0 1,0 14,0a7.0,5.3 0 1,0 -14,0M796.57,1079.23a7.0,5.3 0 1,0 14,0a7.0,5.3 0 1,0 -14,0M799.27,1079.47a7.0,5.3 0 1,0 14,0a7.0,5.3 0 1,0 -14,0M801.96,1080.59a7.0,5.3 0 1,0 14,0a7.0,5.3 0 1,0 -14,0M804.66,1080.69a7.0,5.3 0 1,0 14,0a7.0,5.3 0 1,0 -14,0M807.35,1079.62a7.0,5.3 0 1,0 14,0a7.0,5.3 0 1,0 -14,0M810.05,1080.69a7.0,5.3 0 1,0 14,0a7.0,5.3 0 1,0 -14,0M812.74,1079.72a7.0,5.3 0 1,0 14,0a7.0,5.3 0 1,0 -14,0M815.44,1079.98a7.0,5.3 0 1,0 14,0a7.0,5.3 0 1,0 -14,0M818.13,1080.03a7.0,5.3 0 1,0 14,0a7.0,5.3 0 1,0 -14,0M820.83,1080.38a7.0,5.3 0 1,0 14,0a7.0,5.3 0 1,0 -14,0M823.53,1080.6a7.0,5.3 0 1,0 14,0a7.0,5.3 0 1,0 -14,0M826.22,1081.42a7.0,5.3 0 1,0 14,0a7.0,5.3 0 1,0 -14,0M828.92,1080.85a7.0,5.3 0 1,0 14,0a7.0,5.3 0 1,0 -14,0M831.61,1080.5a7.0,5.3 0 1,0 14,0a7.0,5.3 0 1,0 -14,0M834.31,1080.79a7.0,5.3 0 1,0 14,0a7.0,5.3 0 1,0 -14,0M837,1080.5a7.0,5.3 0 1,0 14,0a7.0,5.3 0 1,0 -14,0M839.7,1080.62a7.0,5.3 0 1,0 14,0a7.0,5.3 0 1,0 -14,0M842.39,1081.27a7.0,5.3 0 1,0 14,0a7.0,5.3 0 1,0 -14,0M845.09,1081.46a7.0,5.3 0 1,0 14,0a7.0,5.3 0 1,0 -14,0M847.78,1081.18a7.0,5.3 0 1,0 14,0a7.0,5.3 0 1,0 -14,0M850.48,1081.44a7.0,5.3 0 1,0 14,0a7.0,5.3 0 1,0 -14,0M853.17,1081.14a7.0,5.3 0 1,0 14,0a7.0,5.3 0 1,0 -14,0M855.87,1082a7.0,5.3 0 1,0 14,0a7.0,5.3 0 1,0 -14,0M858.56,1081.7a7.0,5.3 0 1,0 14,0a7.0,5.3 0 1,0 -14,0M861.26,1081.46a7.0,5.3 0 1,0 14,0a7.0,5.3 0 1,0 -14,0M863.96,1082.01a7.0,5.3 0 1,0 14,0a7.0,5.3 0 1,0 -14,0M866.65,1081.68a7.0,5.3 0 1,0 14,0a7.0,5.3 0 1,0 -14,0M869.35,1081.88a7.0,5.3 0 1,0 14,0a7.0,5.3 0 1,0 -14,0M872.04,1081.72a7.0,5.3 0 1,0 14,0a7.0,5.3 0 1,0 -14,0M874.74,1082.71a7.0,5.3 0 1,0 14,0a7.0,5.3 0 1,0 -14,0M877.43,1082.08a7.0,5.3 0 1,0 14,0a7.0,5.3 0 1,0 -14,0M880.13,1083.1a7.0,5.3 0 1,0 14,0a7.0,5.3 0 1,0 -14,0M882.82,1082.4a7.0,5.3 0 1,0 14,0a7.0,5.3 0 1,0 -14,0M885.52,1082.11a7.0,5.3 0 1,0 14,0a7.0,5.3 0 1,0 -14,0M888.21,1082.95a7.0,5.3 0 1,0 14,0a7.0,5.3 0 1,0 -14,0M890.91,1083.06a7.0,5.3 0 1,0 14,0a7.0,5.3 0 1,0 -14,0M893.6,1083.33a7.0,5.3 0 1,0 14,0a7.0,5.3 0 1,0 -14,0M896.3,1082.34a7.0,5.3 0 1,0 14,0a7.0,5.3 0 1,0 -14,0" fill="#0000ff"/>
<path d="M145.1,921.6a6.2,5.1 0 1,0 12.4,0a6.2,5.1 0 1,0 -12.4,0M147.79,906.98a6.2,5.1 0 1,0 12.4,0a6.2,5.1 0 1,0 -12.4,0M150.49,897.85a6.2,5.1 0 1,0 12.4,0a6.2,5.1 0 1,0 -12.4,0M153.18,896.02a6.2,5.1 0 1,0 12.4,0a6.2,5.1 0 1,0 -12.4,0M155.88,895.41a6.2,5.1 0 1,0 12.4,0a6.2,5.1 0 1,0 -12.4,0M158.57,895.3a6.2,5.1 0 1,0 12.4,0a6.2,5.1 0 1,0 -12.4,0M161.27,895.24a6.2,5.1 0 1,0 12.4,0a6.2,5.1 0 1,0 -12.4,0M163.96,895.02a6.2,5.1 0 1,0 12.4,0a6.2,5.1 0 1,0 -12.4,0M166.66,894.9a6.2,5.1 0 1,0 12.4,0a6.2,5.1 0 1,0 -12.4,0M169.35,895.43a6.2,5.1 0 1,0 12.4,0a6.2,5.1 0 1,0 -12.4,0M172.05,895.26a6.2,5.1 0 1,0 12.4,0a6.2,5.1 0 1,0 -12.4,0M174.74,894.48a6.2,5.1 0 1,0 12.4,0a6.2,5.1 0 1,0 -12.4,0M177.44,894.98a6.2,5.1 0 1,0 12.4,0a6.2,5.1 0 1,0 -12.4,0M180.13,895.21a6.2,5.1 0 1,0 12.4,0a6.2,5.1 0 1,0 -12.4,0M182.83,895.28a6.2,5.1 0 1,0 12.4,0a6.2,5.1 0 1,0 -12.4,0M185.53,894.13a6.2,5.1 0 1,0 12.4,0a6.2,5.1 0 1,0 -12.4,0M188.22,895.03a6.2,5.1 0 1,0 12.4,0a6.2,5.1 0 1,0 -12.4,0M190.92,894.05a6.2,5.1 0 1,0 12.4,0a6.2,5.1 0 1,0 -12.4,0M193.61,894.76a6.2,5.1 0 1,0 12.4,0a6.2,5.1 0 1,0 -12.4,0M196.31,894.59a6.2,5.1 0 1,0 12.4,0a6.2,5.1 0 1,0 -12.4,0M199,894.96a6.2,5.1 0 1,0 12.4,0a6.2,5.1 0 1,0 -12.4,0M201.7,894.51a6.2,5.1 0 1,0 12.4,0a6.2,5.1 0 1,0 -12.4,0M204.39,893.77a6.2,5.1 0 1,0 12.4,0a6.2,5.1 0 1,0 -12.4,0M207.09,894.43a6.2,5.1 0 1,0 12.4,0a6.2,5.1 0 1,0 -12.4,0M209.78,893.87a6.2,5.1 0 1,0 12.4,0a6.2,5.1 0 1,0 -12.4,0M212.48,894.51a6.2,5.1 0 1,0 12.4,0a6.2,5.1 0 1,0 -12.4,0M215.17,893.49a6.2,5.1 0 1,0 12.4,0a6.2,5.1 0 1,0 -12.4,0M217.87,893.78a6.2,5.1 0 1,0 12.4,0a6.2,5.1 0 1,0 -12.4,0M220.57,894.15a6.2,5.1 0 1,0 12.4,0a6.2,5.1 0 1,0 -12.4,0M223.26,893.47a6.2,5.1 0 1,0 12.4,0a6.2,5.1 0 1,0 -12.4,0M225.96,894.01a6.2,5.1 0 1,0 12.4,0a6.2,5.1 0 1,0 -12.4,0M228.65,894.01a6.2,5.1 0 1,0 12.4,0a6.2,5.1 0 1,0 -12.4,0M231.35,894a6.2,5.1 0 1,0 12.4,0a6.2,5.1 0 1,0 -12.4,0M234.04,894.11a6.2,5.1 0 1,0 12.4,0a6.2,5.1 0 1,0 -12.4,0M236.74,893.5a6.2,5.1 0 1,0 12.4,0a6.2,5.1 0 1,0 -12.4,0M239.43,893.12a6.2,5.1 0 1,0 12.4,0a6.2,5.1 0 1,0 -12.4,0M242.13,893.2a6.2,5.1 0 1,0 12.4,0a6.2,5.1 0 1,0 -12.4,0M244.82,893.29a6.2,5.1 0 1,0 12.4,0a6.2,5.1 0 1,0 -12.4,0M247.52,892.83a6.2,5.1 0 1,0 12.4,0a6.2,5.1 0 1,0 -12.4,0M250.21,893.55a6.2,5.1 0 1,0 12.4,0a6.2,5.1 0 1,0 -12.4,0M252.91,892.72a6.2,5.1 0 1,0 12.4,0a6.2,5.1 0 1,0 -12.4,0M255.61,892.65a6.2,5.1 0 1,0 12.4,0a6.2,5.1 0 1,0 -12.4,0M258.3,893.64a6.2,5.1 0 1,0 12.4,0a6.2,5.1 0 1,0 -12.4,0M261,893.43a6.2,5.1 0 1,0 12.4,0a6.2,5.1 0 1,0 -12.4,0M263.69,892.7a6.2,5.1 0 1,0 12.4,0a6.2,5.1 0 1,0 -12.4,0M266.39,892.75a6.2,5.1 0 1,0 12.4,0a6.2,5.1 0 1,0 -12.4,0M269.08,893.27a6.2,5.1 0 1,0 12.4,0a6.2,5.1 0 1,0 -12.4,0M271.78,892.96a6.2,5.1 0 1,0 12.4,0a6.2,5.1 0 1,0 -12.4,0M274.47,892.48a6.2,5.1 0 1,0 12.4,0a6.2,5.1 0 1,0 -12.4,0M277.17,892.65a6.2,5.1 0 1,0 12.4,0a6.2,5.1 0 1,0 -12.4,0M279.86,893.08a6.2,5.1 0 1,0 12.4,0a6.2,5.1 0 1,0 -12.4,0M282.56,892a6.2,5.1 0 1,0 12.4,0a6.2,5.1 0 1,0 -12.4,0M285.25,893.14a6.2,5.1 0 1,0 12.4,0a6.2,5.1 0 1,0 -12.4,0M287.95,892.58a6.2,5.1 0 1,0 12.4,0a6.2,5.1 0 1,0 -12.4,0M290.64,892.07a6.2,5.1 0 1,0 12.4,0a6.2,5.1 0 1,0 -12.4,0M293.34,892.77a6.2,5.1 0 1,0 12.4,0a6.2,5.1 0 1,0 -12.4,0M296.04,891.85a6.2,5.1 0 1,0 12.4,0a6.2,5.1 0 1,0 -12.4,0M298.73,892.21a6.2,5.1 0 1,0 12.4,0a6.2,5.1 0 1,0 -12.4,0M301.43,892.37a6.2,5.1 0 1,0 12.4,0a6.2,5.1 0 1,0 -12.4,0M304.12,891.94a6.2,5.1 0 1,0 12.4,0a6.2,5.1 0 1,0 -12.4,0M306.82,892.67a6.2,5.1 0 1,0 12.4,0a6.2,5.1 0 1,0 -12.4,0M309.51,892.42a6.2,5.1 0 1,0 12.4,0a6.2,5.1 0 1,0 -12.4,0M312.21,891.75a6.2,5.1 0 1,0 12.4,0a6.2,5.1 0 1,0 -12.4,0M314.9,891.71a6.2,5.1 0 1,0 12.4,0a6.2,5.1 0 1,0 -12.4,0M317.6,891.58a6.2,5.1 0 1,0 12.4,0a6.2,5.1 0 1,0 -12.4,0M320.29,892.18a6.2,5.1 0 1,0 12.4,0a6.2,5.1 0 1,0 -12.4,0M322.99,891.7a6.2,5.1 0 1,0 12.4,0a6.2,5.1 0 1,0 -12.4,0M325.68,892.12a6.2,5.1 0 1,0 12.4,0a6.2,5.1 0 1,0 -12.4,0M328.38,892.44a6.2,5.1 0 1,0 12.4,0a6.2,5.1 0 1,0 -12.4,0M331.07,892.51a6.2,5.1 0 1,0 12.4,0a6.2,5.1 0 1,0 -12.4,0M333.77,891.6a6.2,5.1 0 1,0 12.4,0a6.2,5.1 0 1,0 -12.4,0M336.47,891.86a6.2,5.1 0 1,0 12.4,0a6.2,5.1 0 1,0 -12.4,0M339.16,891.96a6.2,5.1 0 1,0 12.4,0a6.2,5.1 0 1,0 -12.4,0M341.86,891.92a6.2,5.1 0 1,0 12.4,0a6.2,5.1 0 1,0 -12.4,0M344.55,891.96a6.2,5.1 0 1,0 12.4,0a6.2,5.1 0 1,0 -12.4,0M347.25,892.01a6.2,5.1 0 1,0 12.4,0a6.2,5.1 0 1,0 -12.4,0M349.94,892.37a6.2,5.1 0 1,0 12.4,0a6.2,5.1 0 1,0 -12.4,0M352.64,891.83a6.2,5.1 0 1,0 12.4,0a6.2,5.1 0 1,0 -12.4,0M355.33,891.87a6.2,5.1 0 1,0 12.4,0a6.2,5.1 0 1,0 -12.4,0M358.03,891.93a6.2,5.1 0 1,0 12.4,0a6.2,5.1 0 1,0 -12.4,0M360.72,891.64a6.2,5.1 0 1,0 12.4,0a6.2,5.1 0 1,0 -12.4,0M363.42,892.22a6.2,5.1 0 1,0 12.4,0a6.2,5.1 0 1,0 -12.4,0M366.11,891.94a6.2,5.1 0 1,0 12.4,0a6.2,5.1 0 1,0 -12.4,0M368.81,892.56a6.2,5.1 0 1,0 12.4,0a6.2,5.1 0 1,0 -12.4,0M371.51,892.76a6.2,5.1 0 1,0 12.4,0a6.2,5.1 0 1,0 -12.4,0M374.2,892.64a6.2,5.1 0 1,0 12.4,0a6.2,5.1 0 1,0 -12.4,0M376.9,892.97a6.2,5.1 0 1,0 12.4,0a6.2,5.1 0 1,0 -12.4,0M379.59,893.35a6.2,5.1 0 1,0 12.4,0a6.2,5.1 0 1,0 -12.4,0M382.29,892.54a6.2,5.1 0 1,0 12.4,0a6.2,5.1 0 1,0 -12.4,0M384.98,891.47a6.2,5.1 0 1,0 12.4,0a6.2,5.1 0 1,0 -12.4,0M387.68,892.03a6.2,5.1 0 1,0 12.4,0a6.2,5.1 0 1,0 -12.4,0M390.37,891.61a6.2,5.1 0 1,0 12.4,0a6.2,5.1 0 1,0 -12.4,0M393.07,891.98a6.2,5.1 0 1,0 12.4,0a6.2,5.1 0 1,0 -12.4,0M395.76,891.85a6.2,5.1 0 1,0 12.4,0a6.2,5.1 0 1,0 -12.4,0M398.46,891.99a6.2,5.1 0 1,0 12.4,0a6.2,5.1 0 1,0 -12.4,0M401.15,891.64a6.2,5.1 0 1,0 12.4,0a6.2,5.1 0 1,0 -12.4,0M403.85,891.81a6.2,5.1 0 1,0 12.4,0a6.2,5.1 0 1,0 -12.4,0M406.55,890.94a6.2,5.1 0 1,0 12.4,0a6.2,5.1 0 1,0 -12.4,0M409.24,890.85a6.2,5.1 0 1,0 12.4,0a6.2,5.1 0 1,0 -12.4,0M411.94,890.31a6.2,5.1 0 1,0 12.4,0a6.2,5.1 0 1,0 -12.4,0M414.63,890.71a6.2,5.1 0 1,0 12.4,0a6.2,5.1 0 1,0 -12.4,0M417.33,889.02a6.2,5.1 0 1,0 12.4,0a6.2,5.1 0 1,0 -12.4,0M420.02,889.08a6.2,5.1 0 1,0 12.4,0a6.2,5.1 0 1,0 -12.4,0M422.72,889.34a6.2,5.1 0 1,0 12.4,0a6.2,5.1 0 1,0 -12.4,0M425.41,890.29a6.2,5.1 0 1,0 12.4,0a6.2,5.1 0 1,0 -12.4,0M428.11,890.1a6.2,5.1 0 1,0 12.4,0a6.2,5.1 0 1,0 -12.4,0M430.8,889.82a6.2,5.1 0 1,0 12.4,0a6.2,5.1 0 1,0 -12.4,0M433.5,890.13a6.2,5.1 0 1,0 12.4,0a6.2,5.1 0 1,0 -12.4,0M436.19,889.74a6.2,5.1 0 1,0 12.4,0a6.2,5.1 0 1,0 -12.4,0M438.89,890.06a6.2,5.1 0 1,0 12.4,0a6.2,5.1 0 1,0 -12.4,0M441.58,890.47a6.2,5.1 0 1,0 12.4,0a6.2,5.1 0 1,0 -12.4,0M444.28,889.8a6.2,5.1 0 1,0 12.4,0a6.2,5.1 0 1,0 -12.4,0M446.98,890.93a6.2,5.1 0 1,0 12.4,0a6.2,5.1 0 1,0 -12.4,0M449.67,890.4a6.2,5.1 0 1,0 12.4,0a6.2,5.1 0 1,0 -12.4,0M452.37,890.13a6.2,5.1 0 1,0 12.4,0a6.2,5.1 0 1,0 -12.4,0M455.06,890.79a6.2,5.1 0 1,0 12.4,0a6.2,5.1 0 1,0 -12.4,0M457.76,889.96a6.2,5.1 0 1,0 12.4,0a6.2,5.1 0 1,0 -12.4,0M460.45,890.19a6.2,5.1 0 1,0 12.4,0a6.2,5.1 0 1,0 -12.4,0M463.15,890.94a6.2,5.1 0 1,0 12.4,0a6.2,5.1 0 1,0 -12.4,0M465.84,890.12a6.2,5.1 0 1,0 12.4,0a6.2,5.1 0 1,0 -12.4,0M468.54,890.72a6.2,5.1 0 1,0 12.4,0a6.2,5.1 0 1,0 -12.4,0M471.23,889.94a6.2,5.1 0 1,0 12.4,0a6.2,5.1 0 1,0 -12.4,0M473.93,890.49a6.2,5.1 0 1,0 12.4,0a6.2,5.1 0 1,0 -12.4,0M476.62,890.65a6.2,5.1 0 1,0 12.4,0a6.2,5.1 0 1,0 -12.4,0M479.32,890.12a6.2,5.1 0 1,0 12.4,0a6.2,5.1 0 1,0 -12.4,0M482.02,890.27a6.2,5.1 0 1,0 12.4,0a6.2,5.1 0 1,0 -12.4,0M484.71,890.54a6.2,5.1 0 1,0 12.4,0a6.2,5.1 0 1,0 -12.4,0M487.41,890.6a6.2,5.1 0 1,0 12.4,0a6.2,5.1 0 1,0 -12.4,0M490.1,890.08a6.2,5.1 0 1,0 12.4,0a6.2,5.1 0 1,0 -12.4,0M492.8,890.39a6.2,5.1 0 1,0 12.4,0a6.2,5.1 0 1,0 -12.4,0M495.49,891.1a6.2,5.1 0 1,0 12.4,0a6.2,5.1 0 1,0 -12.4,0M498.19,890.3a6.2,5.1 0 1,0 12.4,0a6.2,5.1 0 1,0 -12.4,0M500.88,890.85a6.2,5.1 0 1,0 12.4,0a6.2,5.1 0 1,0 -12.4,0M503.58,890.16a6.2,5.1 0 1,0 12.4,0a6.2,5.1 0 1,0 -12.4,0M506.27,890.47a6.2,5.1 0 1,0 12.4,0a6.2,5.1 0 1,0 -12.4,0M508.97,890.54a6.2,5.1 0 1,0 12.4,0a6.2,5.1 0 1,0 -12.4,0M511.66,890.64a6.2,5.1 0 1,0 12.4,0a6.2,5.1 0 1,0 -12.4,0M514.36,890.79a6.2,5.1 0 1,0 12.4,0a6.2,5.1 0 1,0 -12.4,0M517.05,890.88a6.2,5.1 0 1,0 12.4,0a6.2,5.1 0 1,0 -12.4,0M519.75,890.77a6.2,5.1 0 1,0 12.4,0a6.2,5.1 0 1,0 -12.4,0M522.45,890.9a6.2,5.1 0 1,0 12.4,0a6.2,5.1 0 1,0 -12.4,0M525.14,891a6.2,5.1 0 1,0 12.4,0a6.2,5.1 0 1,0 -12.4,0M527.84,890.33a6.2,5.1 0 1,0 12.4,0a6.2,5.1 0 1,0 -12.4,0M530.53,890.93a6.2,5.1 0 1,0 12.4,0a6.2,5.1 0 1,0 -12.4,0M533.23,890.56a6.2,5.1 0 1,0 12.4,0a6.2,5.1 0 1,0 -12.4,0M535.92,890.25a6.2,5.1 0 1,0 12.4,0a6.2,5.1 0 1,0 -12.4,0M538.62,890.14a6.2,5.1 0 1,0 12.4,0a6.2,5.1 0 1,0 -12.4,0M541.31,890.85a6.2,5.1 0 1,0 12.4,0a6.2,5.1 0 1,0 -12.4,0M544.01,890.7a6.2,5.1 0 1,0 12.4,0a6.2,5.1 0 1,0 -12.4,0M546.7,890.02a6.2,5.1 0 1,0 12.4,0a6.2,5.1 0 1,0 -12.4,0M549.4,890.64a6.2,5.1 0 1,0 12.4,0a6.2,5.1 0 1,0 -12.4,0M552.09,889.99a6.2,5.1 0 1,0 12.4,0a6.2,5.1 0 1,0 -12.4,0M554.79,890.4a6.2,5.1 0 1,0 12.4,0a6.2,5.1 0 1,0 -12.4,0M557.48,890.62a6.2,5.1 0 1,0 12.4,0a6.2,5.1 0 1,0 -12.4,0M560.18,890.71a6.2,5.1 0 1,0 12.4,0a6.2,5.1 0 1,0 -12.4,0M562.88,890.11a6.2,5.1 0 1,0 12.4,0a6.2,5.1 0 1,0 -12.4,0M565.57,889.97a6.2,5.1 0 1,0 12.4,0a6.2,5.1 0 1,0 -12.4,0M568.27,890.61a6.2,5.1 0 1,0 12.4,0a6.2,5.1 0 1,0 -12.4,0M570.96,890.89a6.2,5.1 0 1,0 12.4,0a6.2,5.1 0 1,0 -12.4,0M573.66,890.86a6.2,5.1 0 1,0 12.4,0a6.2,5.1 0 1,0 -12.4,0M576.35,890.33a6.2,5.1 0 1,0 12.4,0a6.2,5.1 0 1,0 -12.4,0M579.05,890.59a6.2,5.1 0 1,0 12.4,0a6.2,5.1 0 1,0 -12.4,0M581.74,890.75a6.2,5.1 0 1,0 12.4,0a6.2,5.1 0 1,0 -12.4,0M584.44,890.93a6.2,5.1 0 1,0 12.4,0a6.2,5.1 0 1,0 -12.4,0M587.13,890.46a6.2,5.1 0 1,0 12.4,0a6.2,5.1 0 1,0 -12.4,0M589.83,890.91a6.2,5.1 0 1,0 12.4,0a6.2,5.1 0 1,0 -12.4,0M592.52,890.24a6.2,5.1 0 1,0 12.4,0a6.2,5.1 0 1,0 -12.4,0M595.22,890.11a6.2,5.1 0 1,0 12.4,0a6.2,5.1 0 1,0 -12.4,0M597.92,890.19a6.2,5.1 0 1,0 12.4,0a6.2,5.1 0 1,0 -12.4,0M600.61,890.71a6.2,5.1 0 1,0 12.4,0a6.2,5.1 0 1,0 -12.4,0M603.31,890.88a6.2,5.1 0 1,0 12.4,0a6.2,5.1 0 1,0 -12.4,0M606,890.38a6.2,5.1 0 1,0 12.4,0a6.2,5.1 0 1,0 -12.4,0M608.7,890.64a6.2,5.1 0 1,0 12.4,0a6.2,5.1 0 1,0 -12.4,0M611.39,889.96a6.2,5.1 0 1,0 12.4,0a6.2,5.1 0 1,0 -12.4,0M614.09,890.39a6.2,5.1 0 1,0 12.4,0a6.2,5.1 0 1,0 -12.4,0M616.78,890.3a6.2,5.1 0 1,0 12.4,0a6.2,5.1 0 1,0 -12.4,0M619.48,890.28a6.2,5.1 0 1,0 12.4,0a6.2,5.1 0 1,0 -12.4,0M622.17,889.98a6.2,5.1 0 1,0 12.4,0a6.2,5.1 0 1,0 -12.4,0M624.87,890.5a6.2,5.1 0 1,0 12.4,0a6.2,5.1 0 1,0 -12.4,0M627.56,890.55a6.2,5.1 0 1,0 12.4,0a6.2,5.1 0 1,0 -12.4,0M630.26,890.49a6.2,5.1 0 1,0 12.4,0a6.2,5.1 0 1,0 -12.4,0M632.95,890.61a6.2,5.1 0 1,0 12.4,0a6.2,5.1 0 1,0 -12.4,0M635.65,890.26a6.2,5.1 0 1,0 12.4,0a6.2,5.1 0 1,0 -12.4,0M638.35,890.73a6.2,5.1 0 1,0 12.4,0a6.2,5.1 0 1,0 -12.4,0M641.04,890.38a6.2,5.1 0 1,0 12.4,0a6.2,5.1 0 1,0 -12.4,0M643.74,890.75a6.2,5.1 0 1,0 12.4,0a6.2,5.1 0 1,0 -12.4,0M646.43,890.18a6.2,5.1 0 1,0 12.4,0a6.2,5.1 0 1,0 -12.4,0M649.13,890.52a6.2,5.1 0 1,0 12.4,0a6.2,5.1 0 1,0 -12.4,0M651.82,889.91a6.2,5.1 0 1,0 12.4,0a6.2,5.1 0 1,0 -12.4,0M654.52,889.76a6.2,5.1 0 1,0 12.4,0a6.2,5.1 0 1,0 -12.4,0M657.21,890.78a6.2,5.1 0 1,0 12.4,0a6.2,5.1 0 1,0 -12.4,0M659.91,890.1a6.2,5.1 0 1,0 12.4,0a6.2,5.1 0 1,0 -12.4,0M662.6,889.7a6.2,5.1 0 1,0 12.4,0a6.2,5.1 0 1,0 -12.4,0M665.3,890.39a6.2,5.1 0 1,0 12.4,0a6.2,5.1 0 1,0 -12.4,0M667.99,890.76a6.2,5.1 0 1,0 12.4,0a6.2,5.1 0 1,0 -12.4,0M670.69,890.56a6.2,5.1 0 1,0 12.4,0a6.2,5.1 0 1,0 -12.4,0M673.39,890.82a6.2,5.1 0 1,0 12.4,0a6.2,5.1 0 1,0 -12.4,0M676.08,890.76a6.2,5.1 0 1,0 12.4,0a6.2,5.1 0 1,0 -12.4,0M678.78,890.18a6.2,5.1 0 1,0 12.4,0a6.2,5.1 0 1,0 -12.4,0M681.47,889.91a6.2,5.1 0 1,0 12.4,0a6.2,5.1 0 1,0 -12.4,0M684.17,889.71a6.2,5.1 0 1,0 12.4,0a6.2,5.1 0 1,0 -12.4,0M686.86,889.96a6.2,5.1 0 1,0 12.4,0a6.2,5.1 0 1,0 -12.4,0M689.56,890.39a6.2,5.1 0 1,0 12.4,0a6.2,5.1 0 1,0 -12.4,0M692.25,890.73a6.2,5.1 0 1,0 12.4,0a6.2,5.1 0 1,0 -12.4,0M694.95,889.63a6.2,5.1 0 1,0 12.4,0a6.2,5.1 0 1,0 -12.4,0M697.64,890.61a6.2,5.1 0 1,0 12.4,0a6.2,5.1 0 1,0 -12.4,0M700.34,890.55a6.2,5.1 0 1,0 12.4,0a6.2,5.1 0 1,0 -12.4,0M703.03,890.46a6.2,5.1 0 1,0 12.4,0a6.2,5.1 0 1,0 -12.4,0M705.73,889.79a6.2,5.1 0 1,0 12.4,0a6.2,5.1 0 1,0 -12.4,0M708.42,889.7a6.2,5.1 0 1,0 12.4,0a6.2,5.1 0 1,0 -12.4,0M711.12,890.52a6.2,5.1 0 1,0 12.4,0a6.2,5.1 0 1,0 -12.4,0M713.82,890.4a6.2,5.1 0 1,0 12.4,0a6.2,5.1 0 1,0 -12.4,0M716.51,890.08a6.2,5.1 0 1,0 12.4,0a6.2,5.1 0 1,0 -12.4,0M719.21,890.05a6.2,5.1 0 1,0 12.4,0a6.2,5.1 0 1,0 -12.4,0M721.9,889.67a6.2,5.1 0 1,0 12.4,0a6.2,5.1 0 1,0 -12.4,0M724.6,890.82a6.2,5.1 0 1,0 12.4,0a6.2,5.1 0 1,0 -12.4,0M727.29,890.64a6.2,5.1 0 1,0 12.4,0a6.2,5.1 0 1,0 -12.4,0M729.99,890.8a6.2,5.1 0 1,0 12.4,0a6.2,5.1 0 1,0 -12.4,0M732.68,890.61a6.2,5.1 0 1,0 12.4,0a6.2,5.1 0 1,0 -12.4,0M735.38,890.18a6.2,5.1 0 1,0 12.4,0a6.2,5.1 0 1,0 -12.4,0M738.07,890.65a6.2,5.1 0 1,0 12.4,0a6.2,5.1 0 1,0 -12.4,0M740.77,889.87a6.2,5.1 0 1,0 12.4,0a6.2,5.1 0 1,0 -12.4,0M743.46,890.44a6.2,5.1 0 1,0 12.4,0a6.2,5.1 0 1,0 -12.4,0M746.16,889.92a6.2,5.1 0 1,0 12.4,0a6.2,5.1 0 1,0 -12.4,0M748.86,890.1a6.2,5.1 0 1,0 12.4,0a6.2,5.1 0 1,0 -12.4,0M751.55,890.68a6.2,5.1 0 1,0 12.4,0a6.2,5.1 0 1,0 -12.4,0M754.25,890.14a6.2,5.1 0 1,0 12.4,0a6.2,5.1 0 1,0 -12.4,0M756.94,890.7a6.2,5.1 0 1,0 12.4,0a6.2,5.1 0 1,0 -12.4,0M759.64,890.35a6.2,5.1 0 1,0 12.4,0a6.2,5.1 0 1,0 -12.4,0M762.33,889.98a6.2,5.1 0 1,0 12.4,0a6.2,5.1 0 1,0 -12.4,0M765.03,889.94a6.2,5.1 0 1,0 12.4,0a6.2,5.1 0 1,0 -12.4,0M767.72,889.64a6.2,5.1 0 1,0 12.4,0a6.2,5.1 0 1,0 -12.4,0M770.42,890.32a6.2,5.1 0 1,0 12.4,0a6.2,5.1 0 1,0 -12.4,0M773.11,890.64a6.2,5.1 0 1,0 12.4,0a6.2,5.1 0 1,0 -12.4,0M775.81,889.9a6.2,5.1 0 1,0 12.4,0a6.2,5.1 0 1,0 -12.4,0M778.5,890.21a6.2,5.1 0 1,0 12.4,0a6.2,5.1 0 1,0 -12.4,0M781.2,890.81a6.2,5.1 0 1,0 12.4,0a6.2,5.1 0 1,0 -12.4,0M783.89,890.1a6.2,5.1 0 1,0 12.4,0a6.2,5.1 0 1,0 -12.4,0M786.59,890.76a6.2,5.1 0 1,0 12.4,0a6.2,5.1 0 1,0 -12.4,0M789.29,890.62a6.2,5.1 0 1,0 12.4,0a6.2,5.1 0 1,0 -12.4,0M791.98,890.23a6.2,5.1 0 1,0 12.4,0a6.2,5.1 0 1,0 -12.4,0M794.68,890.39a6.2,5.1 0 1,0 12.4,0a6.2,5.1 0 1,0 -12.4,0M797.37,889.71a6.2,5.1 0 1,0 12.4,0a6.2,5.1 0 1,0 -12.4,0M800.07,890.25a6.2,5.1 0 1,0 12.4,0a6.2,5.1 0 1,0 -12.4,0M802.76,890.54a6.2,5.1 0 1,0 12.4,0a6.2,5.1 0 1,0 -12.4,0M805.46,889.91a6.2,5.1 0 1,0 12.4,0a6.2,5.1 0 1,0 -12.4,0M808.15,889.69a6.2,5.1 0 1,0 12.4,0a6.2,5.1 0 1,0 -12.4,0M810.85,889.67a6.2,5.1 0 1,0 12.4,0a6.2,5.1 0 1,0 -12.4,0M813.54,889.82a6.2,5.1 0 1,0 12.4,0a6.2,5.1 0 1,0 -12.4,0M816.24,889.92a6.2,5.1 0 1,0 12.4,0a6.2,5.1 0 1,0 -12.4,0M818.93,890.6a6.2,5.1 0 1,0 12.4,0a6.2,5.1 0 1,0 -12.4,0M821.63,890.18a6.2,5.1 0 1,0 12.4,0a6.2,5.1 0 1,0 -12.4,0M824.33,890.28a6.2,5.1 0 1,0 12.4,0a6.2,5.1 0 1,0 -12.4,0M827.02,890.01a6.2,5.1 0 1,0 12.4,0a6.2,5.1 0 1,0 -12.4,0M829.72,889.99a6.2,5.1 0 1,0 12.4,0a6.2,5.1 0 1,0 -12.4,0M832.41,890.3a6.2,5.1 0 1,0 12.4,0a6.2,5.1 0 1,0 -12.4,0M835.11,890.53a6.2,5.1 0 1,0 12.4,0a6.2,5.1 0 1,0 -12.4,0M837.8,889.85a6.2,5.1 0 1,0 12.4,0a6.2,5.1 0 1,0 -12.4,0M840.5,890.15a6.2,5.1 0 1,0 12.4,0a6.2,5.1 0 1,0 -12.4,0M843.19,890.41a6.2,5.1 0 1,0 12.4,0a6.2,5.1 0 1,0 -12.4,0M845.89,890.78a6.2,5.1 0 1,0 12.4,0a6.2,5.1 0 1,0 -12.4,0M848.58,889.96a6.2,5.1 0 1,0 12.4,0a6.2,5.1 0 1,0 -12.4,0M851.28,890.1a6.2,5.1 0 1,0 12.4,0a6.2,5.1 0 1,0 -12.4,0M853.97,890.32a6.2,5.1 0 1,0 12.4,0a6.2,5.1 0 1,0 -12.4,0M856.67,889.8a6.2,5.1 0 1,0 12.4,0a6.2,5.1 0 1,0 -12.4,0M859.36,890.37a6.2,5.1 0 1,0 12.4,0a6.2,5.1 0 1,0 -12.4,0M862.06,890.8a6.2,5.1 0 1,0 12.4,0a6.2,5.1 0 1,0 -12.4,0M864.76,889.96a6.2,5.1 0 1,0 12.4,0a6.2,5.1 0 1,0 -12.4,0M867.45,890.21a6.2,5.1 0 1,0 12.4,0a6.2,5.1 0 1,0 -12.4,0M870.15,889.77a6.2,5.1 0 1,0 12.4,0a6.2,5.1 0 1,0 -12.4,0M872.84,890.25a6.2,5.1 0 1,0 12.4,0a6.2,5.1 0 1,0 -12.4,0M875.54,890.8a6.2,5.1 0 1,0 12.4,0a6.2,5.1 0 1,0 -12.4,0M878.23,890.28a6.2,5.1 0 1,0 12.4,0a6.2,5.1 0 1,0 -12.4,0M880.93,889.89a6.2,5.1 0 1,0 12.4,0a6.2,5.1 0 1,0 -12.4,0M883.62,890.01a6.2,5.1 0 1,0 12.4,0a6.2,5.1 0 1,0 -12.4,0M886.32,890.38a6.2,5.1 0 1,0 12.4,0a6.2,5.1 0 1,0 -12.4,0M889.01,890.66a6.2,5.1 0 1,0 12.4,0a6.2,5.1 0 1,0 -12.4,0M891.71,890.18a6.2,5.1 0 1,0 12.4,0a6.2,5.1 0 1,0 -12.4,0M894.4,890.22a6.2,5.1 0 1,0 12.4,0a6.2,5.1 0 1,0 -12.4,0M897.1,890.6a6.2,5.1 0 1,0 12.4,0a6.2,5.1 0 1,0 -12.4,0" fill="#000000"/>
<path d="M148.79,848.99h10.4v8.8h-10.4zM151.49,894.05h10.4v8.8h-10.4zM154.18,925.97h10.4v8.8h-10.4zM156.88,952.76h10.4v8.8h-10.4zM159.57,971.52h10.4v8.8h-10.4zM162.27,986.62h10.4v8.8h-10.4zM164.96,998.8h10.4v8.8h-10.4zM167.66,1012.2h10.4v8.8h-10.4zM170.35,1021.47h10.4v8.8h-10.4zM173.05,1029.25h10.4v8.8h-10.4zM175.74,1036.91h10.4v8.8h-10.4zM178.44,1043.26h10.4v8.8h-10.4zM181.13,1047.55h10.4v8.8h-10.4zM183.83,1051.11h10.4v8.8h-10.4zM186.53,1055.07h10.4v8.8h-10.4zM189.22,1059.47h10.4v8.8h-10.4zM191.92,1064.03h10.4v8.8h-10.4zM194.61,1068.52h10.4v8.8h-10.4zM197.31,1072.7h10.4v8.8h-10.4zM200,1076.35h10.4v8.8h-10.4zM202.7,1079.32h10.4v8.8h-10.4zM205.39,1081.91h10.4v8.8h-10.4zM208.09,1084.24h10.4v8.8h-10.4zM210.78,1086.4h10.4v8.8h-10.4zM213.48,1088.49h10.4v8.8h-10.4zM216.17,1090.58h10.4v8.8h-10.4zM218.87,1092.73h10.4v8.8h-10.4zM221.57,1094.88h10.4v8.8h-10.4zM224.26,1097h10.4v8.8h-10.4zM226.96,1099.03h10.4v8.8h-10.4zM229.65,1100.93h10.4v8.8h-10.4zM232.35,1102.66h10.4v8.8h-10.4zM235.04,1104.2h10.4v8.8h-10.4zM237.74,1105.59h10.4v8.8h-10.4zM240.43,1106.9h10.4v8.8h-10.4zM243.13,1108.16h10.4v8.8h-10.4zM245.82,1109.43h10.4v8.8h-10.4zM248.52,1110.75h10.4v8.8h-10.4zM251.21,1112.14h10.4v8.8h-10.4zM253.91,1113.58h10.4v8.8h-10.4zM256.61,1115.03h10.4v8.8h-10.4zM259.3,1116.47h10.4v8.8h-10.4zM262,1117.88h10.4v8.8h-10.4zM264.69,1119.24h10.4v8.8h-10.4zM267.39,1120.51h10.4v8.8h-10.4zM270.08,1121.69h10.4v8.8h-10.4zM272.78,1122.78h10.4v8.8h-10.4zM275.47,1123.82h10.4v8.8h-10.4zM278.17,1124.81h10.4v8.8h-10.4zM280.86,1125.76h10.4v8.8h-10.4zM283.56,1126.68h10.4v8.8h-10.4zM286.25,1127.58h10.4v8.8h-10.4zM288.95,1128.46h10.4v8.8h-10.4zM291.64,1129.33h10.4v8.8h-10.4zM294.34,1130.21h10.4v8.8h-10.4zM297.04,1131.09h10.4v8.8h-10.4zM299.73,1131.96h10.4v8.8h-10.4zM302.43,1132.83h10.4v8.8h-10.4zM305.12,1133.67h10.4v8.8h-10.4zM307.82,1134.49h10.4v8.8h-10.4zM310.51,1135.28h10.4v8.8h-10.4zM313.21,1136.02h10.4v8.8h-10.4zM315.9,1136.72h10.4v8.8h-10.4zM318.6,1137.37h10.4v8.8h-10.4zM321.29,1137.99h10.4v8.8h-10.4zM323.99,1138.59h10.4v8.8h-10.4zM326.68,1139.15h10.4v8.8h-10.4zM329.38,1139.7h10.4v8.8h-10.4zM332.07,1140.23h10.4v8.8h-10.4zM334.77,1140.75h10.4v8.8h-10.4zM337.47,1141.26h10.4v8.8h-10.4zM340.16,1141.76h10.4v8.8h-10.4zM342.86,1142.26h10.4v8.8h-10.4zM345.55,1142.75h10.4v8.8h-10.4zM348.25,1143.26h10.4v8.8h-10.4zM350.94,1143.76h10.4v8.8h-10.4zM353.64,1144.26h10.4v8.8h-10.4zM356.33,1144.75h10.4v8.8h-10.4zM359.03,1145.24h10.4v8.8h-10.4zM361.72,1145.73h10.4v8.8h-10.4zM364.42,1146.21h10.4v8.8h-10.4zM367.11,1146.68h10.4v8.8h-10.4zM369.81,1147.16h10.4v8.8h-10.4zM372.51,1147.63h10.4v8.8h-10.4zM375.2,1148.09h10.4v8.8h-10.4zM377.9,1148.55h10.4v8.8h-10.4zM380.59,1149.01h10.4v8.8h-10.4zM383.29,1149.47h10.4v8.8h-10.4zM385.98,1149.92h10.4v8.8h-10.4zM388.68,1150.37h10.4v8.8h-10.4zM391.37,1150.82h10.4v8.8h-10.4zM394.07,1151.27h10.4v8.8h-10.4zM396.76,1151.71h10.4v8.8h-10.4zM399.46,1152.15h10.4v8.8h-10.4zM402.15,1152.58h10.4v8.8h-10.4zM404.85,1153.02h10.4v8.8h-10.4zM407.55,1153.45h10.4v8.8h-10.4zM410.24,1153.87h10.4v8.8h-10.4zM412.94,1154.29h10.4v8.8h-10.4zM415.63,1154.71h10.4v8.8h-10.4zM418.33,1155.12h10.4v8.8h-10.4zM421.02,1155.53h10.4v8.8h-10.4zM423.72,1155.94h10.4v8.8h-10.4zM426.41,1156.34h10.4v8.8h-10.4zM429.11,1156.74h10.4v8.8h-10.4zM431.8,1157.15h10.4v8.8h-10.4zM434.5,1157.57h10.4v8.8h-10.4zM437.19,1158h10.4v8.8h-10.4zM439.89,1158.41h10.4v8.8h-10.4zM442.58,1158.79h10.4v8.8h-10.4zM445.28,1159.12h10.4v8.8h-10.4zM447.98,1159.38h10.4v8.8h-10.4zM450.67,1159.61h10.4v8.8h-10.4zM453.37,1159.83h10.4v8.8h-10.4zM456.06,1160.03h10.4v8.8h-10.4zM458.76,1160.22h10.4v8.8h-10.4zM461.45,1160.4h10.4v8.8h-10.4zM464.15,1160.57h10.4v8.8h-10.4zM466.84,1160.73h10.4v8.8h-10.4zM469.54,1160.88h10.4v8.8h-10.4zM472.23,1161.03h10.4v8.8h-10.4zM474.93,1161.17h10.4v8.8h-10.4zM477.62,1161.3h10.4v8.8h-10.4zM480.32,1161.44h10.4v8.8h-10.4zM483.02,1161.57h10.4v8.8h-10.4zM485.71,1161.7h10.4v8.8h-10.4zM488.41,1161.84h10.4v8.8h-10.4zM491.1,1161.97h10.4v8.8h-10.4zM493.8,1162.11h10.4v8.8h-10.4zM496.49,1162.26h10.4v8.8h-10.4zM499.19,1162.41h10.4v8.8h-10.4zM501.88,1162.57h10.4v8.8h-10.4zM504.58,1162.74h10.4v8.8h-10.4zM507.27,1162.93h10.4v8.8h-10.4zM509.97,1163.13h10.4v8.8h-10.4zM512.66,1163.35h10.4v8.8h-10.4zM515.36,1163.57h10.4v8.8h-10.4zM518.05,1163.79h10.4v8.8h-10.4zM520.75,1164.01h10.4v8.8h-10.4zM523.45,1164.22h10.4v8.8h-10.4zM526.14,1164.42h10.4v8.8h-10.4zM528.84,1164.59h10.4v8.8h-10.4zM531.53,1164.75h10.4v8.8h-10.4zM534.23,1164.88h10.4v8.8h-10.4zM536.92,1164.97h10.4v8.8h-10.4zM539.62,1165.06h10.4v8.8h-10.4zM542.31,1165.14h10.4v8.8h-10.4zM545.01,1165.22h10.4v8.8h-10.4zM547.7,1165.29h10.4v8.8h-10.4zM550.4,1165.36h10.4v8.8h-10.4zM553.09,1165.43h10.4v8.8h-10.4zM555.79,1165.49h10.4v8.8h-10.4zM558.48,1165.55h10.4v8.8h-10.4zM561.18,1165.61h10.4v8.8h-10.4zM563.88,1165.66h10.4v8.8h-10.4zM566.57,1165.71h10.4v8.8h-10.4zM569.27,1165.76h10.4v8.8h-10.4zM571.96,1165.81h10.4v8.8h-10.4zM574.66,1165.86h10.4v8.8h-10.4zM577.35,1165.9h10.4v8.8h-10.4zM580.05,1165.94h10.4v8.8h-10.4zM582.74,1165.99h10.4v8.8h-10.4zM585.44,1166.03h10.4v8.8h-10.4zM588.13,1166.07h10.4v8.8h-10.4zM590.83,1166.11h10.4v8.8h-10.4zM593.52,1166.15h10.4v8.8h-10.4zM596.22,1166.19h10.4v8.8h-10.4zM598.92,1166.23h10.4v8.8h-10.4zM601.61,1166.27h10.4v8.8h-10.4zM604.31,1166.32h10.4v8.8h-10.4zM607,1166.36h10.4v8.8h-10.4zM609.7,1166.4h10.4v8.8h-10.4zM612.39,1166.45h10.4v8.8h-10.4zM615.09,1166.49h10.4v8.8h-10.4zM617.78,1166.53h10.4v8.8h-10.4zM620.48,1166.57h10.4v8.8h-10.4zM623.17,1166.61h10.4v8.8h-10.4zM625.87,1166.65h10.4v8.8h-10.4zM628.56,1166.69h10.4v8.8h-10.4zM631.26,1166.73h10.4v8.8h-10.4zM633.95,1166.76h10.4v8.8h-10.4zM636.65,1166.8h10.4v8.8h-10.4zM639.35,1166.84h10.4v8.8h-10.4zM642.04,1166.87h10.4v8.8h-10.4zM644.74,1166.91h10.4v8.8h-10.4zM647.43,1166.94h10.4v8.8h-10.4zM650.13,1166.98h10.4v8.8h-10.4zM652.82,1167.01h10.4v8.8h-10.4zM655.52,1167.05h10.4v8.8h-10.4zM658.21,1167.08h10.4v8.8h-10.4zM660.91,1167.12h10.4v8.8h-10.4zM663.6,1167.15h10.4v8.8h-10.4zM666.3,1167.19h10.4v8.8h-10.4zM668.99,1167.23h10.4v8.8h-10.4zM671.69,1167.26h10.4v8.8h-10.4zM674.39,1167.3h10.4v8.8h-10.4zM677.08,1167.34h10.4v8.8h-10.4zM679.78,1167.38h10.4v8.8h-10.4zM682.47,1167.42h10.4v8.8h-10.4zM685.17,1167.46h10.4v8.8h-10.4zM687.86,1167.51h10.4v8.8h-10.4zM690.56,1167.55h10.4v8.8h-10.4zM693.25,1167.59h10.4v8.8h-10.4zM695.95,1167.64h10.4v8.8h-10.4zM698.64,1167.69h10.4v8.8h-10.4zM701.34,1167.74h10.4v8.8h-10.4zM704.03,1167.78h10.4v8.8h-10.4zM706.73,1167.83h10.4v8.8h-10.4zM709.42,1167.88h10.4v8.8h-10.4zM712.12,1167.94h10.4v8.8h-10.4zM714.82,1167.99h10.4v8.8h-10.4zM717.51,1168.04h10.4v8.8h-10.4zM720.21,1168.09h10.4v8.8h-10.4zM722.9,1168.15h10.4v8.8h-10.4zM725.6,1168.2h10.4v8.8h-10.4zM728.29,1168.26h10.4v8.8h-10.4zM730.99,1168.32h10.4v8.8h-10.4zM733.68,1168.37h10.4v8.8h-10.4zM736.38,1168.43h10.4v8.8h-10.4zM739.07,1168.49h10.4v8.8h-10.4zM741.77,1168.55h10.4v8.8h-10.4zM744.46,1168.61h10.4v8.8h-10.4zM747.16,1168.67h10.4v8.8h-10.4zM749.86,1168.73h10.4v8.8h-10.4zM752.55,1168.79h10.4v8.8h-10.4zM755.25,1168.85h10.4v8.8h-10.4zM757.94,1168.91h10.4v8.8h-10.4zM760.64,1168.97h10.4v8.8h-10.4zM763.33,1169.04h10.4v8.8h-10.4zM766.03,1169.1h10.4v8.8h-10.4zM768.72,1169.16h10.4v8.8h-10.4zM771.42,1169.23h10.4v8.8h-10.4zM774.11,1169.29h10.4v8.8h-10.4zM776.81,1169.35h10.4v8.8h-10.4zM779.5,1169.42h10.4v8.8h-10.4zM782.2,1169.48h10.4v8.8h-10.4zM784.89,1169.55h10.4v8.8h-10.4zM787.59,1169.62h10.4v8.8h-10.4zM790.29,1169.68h10.4v8.8h-10.4zM792.98,1169.75h10.4v8.8h-10.4zM795.68,1169.81h10.4v8.8h-10.4zM798.37,1169.88h10.4v8.8h-10.4zM801.07,1169.95h10.4v8.8h-10.4zM803.76,1170.01h10.4v8.8h-10.4zM806.46,1170.08h10.4v8.8h-10.4zM809.15,1170.15h10.4v8.8h-10.4zM811.85,1170.22h10.4v8.8h-10.4zM814.54,1170.28h10.4v8.8h-10.4zM817.24,1170.35h10.4v8.8h-10.4zM819.93,1170.42h10.4v8.8h-10.4zM822.63,1170.49h10.4v8.8h-10.4zM825.33,1170.55h10.4v8.8h-10.4zM828.02,1170.62h10.4v8.8h-10.4zM830.72,1170.69h10.4v8.8h-10.4zM833.41,1170.76h10.4v8.8h-10.4zM836.11,1170.82h10.4v8.8h-10.4zM838.8,1170.89h10.4v8.8h-10.4zM841.5,1170.96h10.4v8.8h-10.4zM844.19,1171.02h10.4v8.8h-10.4zM846.89,1171.09h10.4v8.8h-10.4zM849.58,1171.16h10.4v8.8h-10.4zM852.28,1171.22h10.4v8.8h-10.4zM854.97,1171.29h10.4v8.8h-10.4zM857.67,1171.36h10.4v8.8h-10.4zM860.36,1171.42h10.4v8.8h-10.4zM863.06,1171.49h10.4v8.8h-10.4zM865.76,1171.55h10.4v8.8h-10.4zM868.45,1171.62h10.4v8.8h-10.4zM871.15,1171.69h10.4v8.8h-10.4zM873.84,1171.75h10.4v8.8h-10.4zM876.54,1171.82h10.4v8.8h-10.4zM879.23,1171.89h10.4v8.8h-10.4zM881.93,1171.96h10.4v8.8h-10.4zM884.62,1172.02h10.4v8.8h-10.4zM887.32,1172.09h10.4v8.8h-10.4zM890.01,1172.16h10.4v8.8h-10.4zM892.71,1172.23h10.4v8.8h-10.4zM895.4,1172.3h10.4v8.8h-10.4zM898.1,1172.37h10.4v8.8h-10.4z" fill="none" stroke="#007800" stroke-width="1.5"/>
<path d="M145.3,864.22h12v10h-12zM147.99,898.33h12v10h-12zM150.69,929.26h12v10h-12zM153.38,957.64h12v10h-12zM156.08,977.74h12v10h-12zM158.77,993.33h12v10h-12zM161.47,1004.9h12v10h-12zM164.16,1015.1h12v10h-12zM166.86,1024.37h12v10h-12zM169.55,1033.07h12v10h-12zM172.25,1040.48h12v10h-12zM174.94,1046.78h12v10h-12zM177.64,1052.33h12v10h-12zM180.33,1057.11h12v10h-12zM183.03,1061.27h12v10h-12zM185.73,1065.02h12v10h-12zM188.42,1068.47h12v10h-12zM191.12,1071.75h12v10h-12zM193.81,1074.97h12v10h-12zM196.51,1078.25h12v10h-12zM199.2,1081.63h12v10h-12zM201.9,1085.01h12v10h-12zM204.59,1088.27h12v10h-12zM207.29,1091.3h12v10h-12zM209.98,1093.98h12v10h-12zM212.68,1096.24h12v10h-12zM215.37,1098.25h12v10h-12zM218.07,1100.08h12v10h-12zM220.77,1101.76h12v10h-12zM223.46,1103.33h12v10h-12zM226.16,1104.81h12v10h-12zM228.85,1106.22h12v10h-12zM231.55,1107.53h12v10h-12zM234.24,1108.76h12v10h-12zM236.94,1109.94h12v10h-12zM239.63,1111.08h12v10h-12zM242.33,1112.22h12v10h-12zM245.02,1113.37h12v10h-12zM247.72,1114.51h12v10h-12zM250.41,1115.63h12v10h-12zM253.11,1116.72h12v10h-12zM255.81,1117.78h12v10h-12zM258.5,1118.78h12v10h-12zM261.2,1119.75h12v10h-12zM263.89,1120.68h12v10h-12zM266.59,1121.58h12v10h-12zM269.28,1122.46h12v10h-12zM271.98,1123.32h12v10h-12zM274.67,1124.17h12v10h-12zM277.37,1125.01h12v10h-12zM280.06,1125.85h12v10h-12zM282.76,1126.68h12v10h-12zM285.45,1127.51h12v10h-12zM288.15,1128.32h12v10h-12zM290.84,1129.13h12v10h-12zM293.54,1129.93h12v10h-12zM296.24,1130.71h12v10h-12zM298.93,1131.49h12v10h-12zM301.63,1132.26h12v10h-12zM304.32,1133.02h12v10h-12zM307.02,1133.77h12v10h-12zM309.71,1134.53h12v10h-12zM312.41,1135.27h12v10h-12zM315.1,1136.01h12v10h-12zM317.8,1136.73h12v10h-12zM320.49,1137.44h12v10h-12zM323.19,1138.13h12v10h-12zM325.88,1138.8h12v10h-12zM328.58,1139.44h12v10h-12zM331.27,1140.07h12v10h-12zM333.97,1140.68h12v10h-12zM336.67,1141.28h12v10h-12zM339.36,1141.86h12v10h-12zM342.06,1142.44h12v10h-12zM344.75,1143h12v10h-12zM347.45,1143.56h12v10h-12zM350.14,1144.12h12v10h-12zM352.84,1144.67h12v10h-12zM355.53,1145.22h12v10h-12zM358.23,1145.77h12v10h-12zM360.92,1146.32h12v10h-12zM363.62,1146.87h12v10h-12zM366.31,1147.42h12v10h-12zM369.01,1147.97h12v10h-12zM371.71,1148.51h12v10h-12zM374.4,1149.06h12v10h-12zM377.1,1149.6h12v10h-12zM379.79,1150.14h12v10h-12zM382.49,1150.67h12v10h-12zM385.18,1151.2h12v10h-12zM387.88,1151.73h12v10h-12zM390.57,1152.25h12v10h-12zM393.27,1152.77h12v10h-12zM395.96,1153.28h12v10h-12zM398.66,1153.78h12v10h-12zM401.35,1154.28h12v10h-12zM404.05,1154.76h12v10h-12zM406.75,1155.25h12v10h-12zM409.44,1155.72h12v10h-12zM412.14,1156.19h12v10h-12zM414.83,1156.66h12v10h-12zM417.53,1157.14h12v10h-12zM420.22,1157.61h12v10h-12zM422.92,1158.08h12v10h-12zM425.61,1158.53h12v10h-12zM428.31,1158.97h12v10h-12zM431,1159.39h12v10h-12zM433.7,1159.78h12v10h-12zM436.39,1160.14h12v10h-12zM439.09,1160.47h12v10h-12zM441.78,1160.77h12v10h-12zM444.48,1161.04h12v10h-12zM447.18,1161.3h12v10h-12zM449.87,1161.54h12v10h-12zM452.57,1161.76h12v10h-12zM455.26,1161.96h12v10h-12zM457.96,1162.14h12v10h-12zM460.65,1162.31h12v10h-12zM463.35,1162.48h12v10h-12zM466.04,1162.63h12v10h-12zM468.74,1162.78h12v10h-12zM471.43,1162.93h12v10h-12zM474.13,1163.06h12v10h-12zM476.82,1163.2h12v10h-12zM479.52,1163.33h12v10h-12zM482.22,1163.45h12v10h-12zM484.91,1163.57h12v10h-12zM487.61,1163.69h12v10h-12zM490.3,1163.81h12v10h-12zM493,1163.92h12v10h-12zM495.69,1164.03h12v10h-12zM498.39,1164.14h12v10h-12zM501.08,1164.25h12v10h-12zM503.78,1164.36h12v10h-12zM506.47,1164.47h12v10h-12zM509.17,1164.58h12v10h-12zM511.86,1164.69h12v10h-12zM514.56,1164.8h12v10h-12zM517.25,1164.91h12v10h-12zM519.95,1165.03h12v10h-12zM522.65,1165.14h12v10h-12zM525.34,1165.25h12v10h-12zM528.04,1165.35h12v10h-12zM530.73,1165.46h12v10h-12zM533.43,1165.56h12v10h-12zM536.12,1165.67h12v10h-12zM538.82,1165.77h12v10h-12zM541.51,1165.87h12v10h-12zM544.21,1165.97h12v10h-12zM546.9,1166.06h12v10h-12zM549.6,1166.16h12v10h-12zM552.29,1166.25h12v10h-12zM554.99,1166.35h12v10h-12zM557.68,1166.45h12v10h-12zM560.38,1166.54h12v10h-12zM563.08,1166.64h12v10h-12zM565.77,1166.74h12v10h-12zM568.47,1166.83h12v10h-12zM571.16,1166.93h12v10h-12zM573.86,1167.02h12v10h-12zM576.55,1167.12h12v10h-12zM579.25,1167.21h12v10h-12zM581.94,1167.3h12v10h-12zM584.64,1167.39h12v10h-12zM587.33,1167.48h12v10h-12zM590.03,1167.57h12v10h-12zM592.72,1167.65h12v10h-12zM595.42,1167.73h12v10h-12zM598.12,1167.81h12v10h-12zM600.81,1167.89h12v10h-12zM603.51,1167.97h12v10h-12zM606.2,1168.04h12v10h-12zM608.9,1168.11h12v10h-12zM611.59,1168.17h12v10h-12zM614.29,1168.24h12v10h-12zM616.98,1168.3h12v10h-12zM619.68,1168.35h12v10h-12zM622.37,1168.4h12v10h-12zM625.07,1168.45h12v10h-12zM627.76,1168.5h12v10h-12zM630.46,1168.55h12v10h-12zM633.15,1168.59h12v10h-12zM635.85,1168.64h12v10h-12zM638.55,1168.68h12v10h-12zM641.24,1168.72h12v10h-12zM643.94,1168.76h12v10h-12zM646.63,1168.8h12v10h-12zM649.33,1168.83h12v10h-12zM652.02,1168.87h12v10h-12zM654.72,1168.9h12v10h-12zM657.41,1168.94h12v10h-12zM660.11,1168.97h12v10h-12zM662.8,1169.01h12v10h-12zM665.5,1169.04h12v10h-12zM668.19,1169.07h12v10h-12zM670.89,1169.1h12v10h-12zM673.59,1169.14h12v10h-12zM676.28,1169.17h12v10h-12zM678.98,1169.2h12v10h-12zM681.67,1169.24h12v10h-12zM684.37,1169.27h12v10h-12zM687.06,1169.31h12v10h-12zM689.76,1169.34h12v10h-12zM692.45,1169.38h12v10h-12zM695.15,1169.41h12v10h-12zM697.84,1169.45h12v10h-12zM700.54,1169.49h12v10h-12zM703.23,1169.53h12v10h-12zM705.93,1169.57h12v10h-12zM708.62,1169.62h12v10h-12zM711.32,1169.66h12v10h-12zM714.02,1169.71h12v10h-12zM716.71,1169.75h12v10h-12zM719.41,1169.8h12v10h-12zM722.1,1169.85h12v10h-12zM724.8,1169.9h12v10h-12zM727.49,1169.95h12v10h-12zM730.19,1170h12v10h-12zM732.88,1170.05h12v10h-12zM735.58,1170.1h12v10h-12zM738.27,1170.15h12v10h-12zM740.97,1170.2h12v10h-12zM743.66,1170.26h12v10h-12zM746.36,1170.31h12v10h-12zM749.06,1170.36h12v10h-12zM751.75,1170.42h12v10h-12zM754.45,1170.47h12v10h-12zM757.14,1170.53h12v10h-12zM759.84,1170.58h12v10h-12zM762.53,1170.64h12v10h-12zM765.23,1170.7h12v10h-12zM767.92,1170.75h12v10h-12zM770.62,1170.81h12v10h-12zM773.31,1170.87h12v10h-12zM776.01,1170.92h12v10h-12zM778.7,1170.98h12v10h-12zM781.4,1171.04h12v10h-12zM784.09,1171.09h12v10h-12zM786.79,1171.15h12v10h-12zM789.49,1171.21h12v10h-12zM792.18,1171.26h12v10h-12zM794.88,1171.32h12v10h-12zM797.57,1171.38h12v10h-12zM800.27,1171.43h12v10h-12zM802.96,1171.49h12v10h-12zM805.66,1171.54h12v10h-12zM808.35,1171.6h12v10h-12zM811.05,1171.65h12v10h-12zM813.74,1171.71h12v10h-12zM816.44,1171.76h12v10h-12zM819.13,1171.81h12v10h-12zM821.83,1171.87h12v10h-12zM824.53,1171.92h12v10h-12zM827.22,1171.97h12v10h-12zM829.92,1172.02h12v10h-12zM832.61,1172.07h12v10h-12zM835.31,1172.12h12v10h-12zM838,1172.17h12v10h-12zM840.7,1172.22h12v10h-12zM843.39,1172.27h12v10h-12zM846.09,1172.31h12v10h-12zM848.78,1172.36h12v10h-12zM851.48,1172.4h12v10h-12zM854.17,1172.45h12v10h-12zM856.87,1172.49h12v10h-12zM859.56,1172.53h12v10h-12zM862.26,1172.57h12v10h-12zM864.96,1172.61h12v10h-12zM867.65,1172.65h12v10h-12zM870.35,1172.68h12v10h-12zM873.04,1172.72h12v10h-12zM875.74,1172.76h12v10h-12zM878.43,1172.79h12v10h-12zM881.13,1172.82h12v10h-12zM883.82,1172.85h12v10h-12zM886.52,1172.88h12v10h-12zM889.21,1172.9h12v10h-12zM891.91,1172.93h12v10h-12zM894.6,1172.96h12v10h-12zM897.3,1172.98h12v10h-12z" fill="#007800"/>
<path d="M356.5,1050V1084.3H273.1" fill="none" stroke="#3a3a3a" stroke-width="1.4"/>
<path d="M265.1,1084.3 L281.1,1080.9 L277.1,1084.3 L281.1,1087.7 Z" fill="#3a3a3a"/>
<path d="M303.5,1141.9V1168.3H220.5" fill="none" stroke="#3a3a3a" stroke-width="1.4"/>
<path d="M212.5,1168.3 L228.5,1164.9 L224.5,1168.3 L228.5,1171.7 Z" fill="#3a3a3a"/>
<path d="M738.1,905.2V958.8H882.2" fill="none" stroke="#555" stroke-width="1.4"/>
<path d="M890.2,958.8 L874.2,955.4 L878.2,958.8 L874.2,962.2 Z" fill="#555"/>
<ellipse cx="309.6" cy="942" rx="6.6" ry="6" fill="#e8000a"/>
<rect x="302.4" y="962.8" width="12.8" height="10.4" fill="#007800"/>
<ellipse cx="310" cy="991" rx="6.1" ry="5.5" fill="#000"/>
<text transform="translate(359.12,950.5) scale(1.4950,1)" font-size="20.65" font-weight="bold" fill="#000">PI</text>
<text transform="translate(359.25,976.2) scale(1.3527,1)" font-size="21.36" font-weight="bold" fill="#000">PTCDA</text>
<text transform="translate(359.2,1000.83) scale(1.3136,1)" font-size="22.52" font-weight="bold" fill="#000">PI coulombic Efficiency (%)</text>
<rect x="148.6" y="833.9" width="754.7" height="365.4" fill="none" stroke="#1a1a1a" stroke-width="2.0"/>
<line x1="148.6" y1="1138.4" x2="156.1" y2="1138.4" stroke="#1a1a1a" stroke-width="2.0"/>
<line x1="895.8" y1="1138.4" x2="903.3" y2="1138.4" stroke="#1a1a1a" stroke-width="2.0"/>
<line x1="148.6" y1="1077.5" x2="156.1" y2="1077.5" stroke="#1a1a1a" stroke-width="2.0"/>
<line x1="895.8" y1="1077.5" x2="903.3" y2="1077.5" stroke="#1a1a1a" stroke-width="2.0"/>
<line x1="148.6" y1="1016.6" x2="156.1" y2="1016.6" stroke="#1a1a1a" stroke-width="2.0"/>
<line x1="895.8" y1="1016.6" x2="903.3" y2="1016.6" stroke="#1a1a1a" stroke-width="2.0"/>
<line x1="148.6" y1="955.7" x2="156.1" y2="955.7" stroke="#1a1a1a" stroke-width="2.0"/>
<line x1="895.8" y1="955.7" x2="903.3" y2="955.7" stroke="#1a1a1a" stroke-width="2.0"/>
<line x1="148.6" y1="894.8" x2="156.1" y2="894.8" stroke="#1a1a1a" stroke-width="2.0"/>
<line x1="895.8" y1="894.8" x2="903.3" y2="894.8" stroke="#1a1a1a" stroke-width="2.0"/>
<line x1="256.41" y1="1199.3" x2="256.41" y2="1193.3" stroke="#1a1a1a" stroke-width="2.0"/>
<line x1="364.23" y1="1199.3" x2="364.23" y2="1193.3" stroke="#1a1a1a" stroke-width="2.0"/>
<line x1="472.04" y1="1199.3" x2="472.04" y2="1193.3" stroke="#1a1a1a" stroke-width="2.0"/>
<line x1="579.86" y1="1199.3" x2="579.86" y2="1193.3" stroke="#1a1a1a" stroke-width="2.0"/>
<line x1="687.67" y1="1199.3" x2="687.67" y2="1193.3" stroke="#1a1a1a" stroke-width="2.0"/>
<line x1="795.49" y1="1199.3" x2="795.49" y2="1193.3" stroke="#1a1a1a" stroke-width="2.0"/>
<text transform="translate(117.3,1207.81) scale(1.2100,1)" font-size="24.4" font-weight="bold" fill="#000">0</text>
<text transform="translate(919.52,1207.81) scale(1.2100,1)" font-size="24.4" font-weight="bold" fill="#000">0</text>
<text transform="translate(100.91,1146.91) scale(1.2100,1)" font-size="24.4" font-weight="bold" fill="#000">50</text>
<text transform="translate(919.67,1146.91) scale(1.2100,1)" font-size="24.4" font-weight="bold" fill="#000">20</text>
<text transform="translate(84.45,1086.01) scale(1.2100,1)" font-size="24.4" font-weight="bold" fill="#000">100</text>
<text transform="translate(920.26,1086.01) scale(1.2100,1)" font-size="24.4" font-weight="bold" fill="#000">40</text>
<text transform="translate(84.45,1025.11) scale(1.2100,1)" font-size="24.4" font-weight="bold" fill="#000">150</text>
<text transform="translate(919.59,1025.11) scale(1.2100,1)" font-size="24.4" font-weight="bold" fill="#000">60</text>
<text transform="translate(84.45,964.21) scale(1.2100,1)" font-size="24.4" font-weight="bold" fill="#000">200</text>
<text transform="translate(919.74,964.21) scale(1.2100,1)" font-size="24.4" font-weight="bold" fill="#000">80</text>
<text transform="translate(84.45,903.31) scale(1.2100,1)" font-size="24.4" font-weight="bold" fill="#000">250</text>
<text transform="translate(918.85,903.31) scale(1.2100,1)" font-size="24.4" font-weight="bold" fill="#000">100</text>
<text transform="translate(84.45,842.41) scale(1.2100,1)" font-size="24.4" font-weight="bold" fill="#000">300</text>
<text transform="translate(918.85,842.41) scale(1.2100,1)" font-size="24.4" font-weight="bold" fill="#000">120</text>
<text transform="translate(140.48,1233.9) scale(1.2300,1)" font-size="23.8" font-weight="bold" fill="#000">0</text>
<text transform="translate(240.53,1233.9) scale(1.2300,1)" font-size="23.8" font-weight="bold" fill="#000">40</text>
<text transform="translate(348.09,1233.9) scale(1.2300,1)" font-size="23.8" font-weight="bold" fill="#000">80</text>
<text transform="translate(447.31,1233.9) scale(1.2300,1)" font-size="23.8" font-weight="bold" fill="#000">120</text>
<text transform="translate(555.12,1233.9) scale(1.2300,1)" font-size="23.8" font-weight="bold" fill="#000">160</text>
<text transform="translate(663.34,1233.9) scale(1.2300,1)" font-size="23.8" font-weight="bold" fill="#000">200</text>
<text transform="translate(771.15,1233.9) scale(1.2300,1)" font-size="23.8" font-weight="bold" fill="#000">240</text>
<text transform="translate(878.97,1233.9) scale(1.2300,1)" font-size="23.8" font-weight="bold" fill="#000">280</text>
<text transform="translate(430.77,1268.8) scale(1.2931,1)" font-size="25.66" font-weight="bold" fill="#000">Cycle number</text>
<text transform="translate(59.6,1193.23) rotate(-90) scale(0.8366,1)" font-size="32.96" font-weight="bold">Specifice Capacity (mAh/g)</text>
<text transform="translate(1002.52,1184.8) rotate(-90) scale(0.8564,1)" font-size="32.17" font-weight="bold">Coulombic Efficiency (%)</text>
<text transform="translate(839.58,871.18) scale(1.3121,1)" font-size="32.39" font-weight="bold" fill="#000">(c)</text>
</g></svg></div>
</body></html>
